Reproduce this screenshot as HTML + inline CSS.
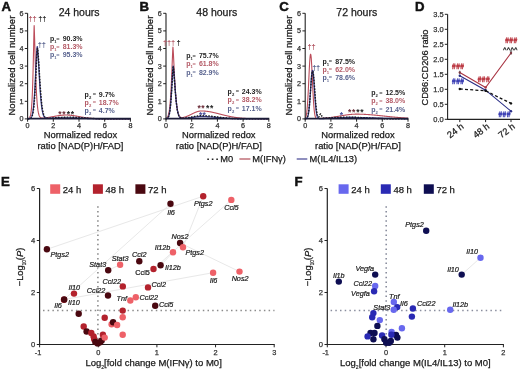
<!DOCTYPE html>
<html><head><meta charset="utf-8"><style>
html,body{margin:0;padding:0;background:#fff;}
svg{display:block;font-family:"Liberation Sans", Arial, sans-serif;}
</style></head><body>
<svg width="520" height="370" viewBox="0 0 520 370">
<rect width="520" height="370" fill="#fff"/>
<text x="1.60" y="10.60" font-size="13.2" text-anchor="start" fill="#111" font-weight="bold" stroke="#111" stroke-width="0.5">A</text>
<text x="58.70" y="15.50" font-size="10.5" text-anchor="start" fill="#1a1a1a"  stroke="#1a1a1a" stroke-width="0.25">24 hours</text>
<path d="M27.60,118.77 L27.78,118.74 L27.97,118.70 L28.15,118.66 L28.33,118.60 L28.52,118.53 L28.70,118.45 L28.89,118.34 L29.07,118.20 L29.25,118.03 L29.44,117.82 L29.62,117.56 L29.80,117.24 L29.99,116.84 L30.17,116.35 L30.35,115.75 L30.54,115.02 L30.72,114.13 L30.90,113.05 L31.09,111.75 L31.27,110.20 L31.46,108.33 L31.64,106.12 L31.82,103.51 L32.01,100.44 L32.19,96.85 L32.37,92.69 L32.56,87.92 L32.74,82.47 L32.92,76.33 L33.00,73.68 L33.11,69.49 L33.29,61.99 L33.47,53.93 L33.66,45.49 L33.84,37.03 L34.02,29.27 L34.15,25.45 L34.21,26.36 L34.39,31.41 L34.54,36.26 L34.58,37.53 L34.76,44.00 L34.80,45.31 L34.92,49.86 L34.94,50.51 L35.05,54.34 L35.13,56.86 L35.31,62.93 L35.49,68.67 L35.68,74.01 L35.86,78.95 L36.04,83.48 L36.23,87.60 L36.41,91.32 L36.59,94.68 L36.78,97.68 L36.96,100.36 L37.15,102.73 L37.24,103.81 L37.33,104.83 L37.49,106.50 L37.51,106.68 L37.70,108.30 L37.88,109.71 L38.06,110.95 L38.25,112.02 L38.43,112.95 L38.61,113.76 L38.80,114.45 L38.98,115.04 L39.16,115.55 L39.35,115.98 L39.53,116.35 L39.72,116.67 L39.90,116.93 L40.08,117.15 L40.27,117.34 L40.45,117.49 L40.63,117.62 L40.82,117.73 L41.00,117.81 L41.18,117.88 L41.37,117.94 L41.55,117.98 L41.73,118.02 L41.92,118.04 L42.10,118.06 L42.29,118.07 L42.47,118.08 L42.65,118.08 L42.84,118.07 L43.02,118.07 L43.20,118.06 L43.39,118.05 L43.57,118.04 L43.75,118.02 L43.94,118.01 L44.12,117.99 L44.31,117.97 L44.49,117.95 L44.67,117.93 L44.86,117.91 L45.04,117.89 L45.22,117.87 L45.41,117.84 L45.59,117.82 L45.77,117.80 L45.96,117.77 L46.14,117.75 L46.32,117.72 L46.51,117.69 L46.69,117.67 L46.88,117.64 L47.06,117.62 L47.24,117.59 L47.43,117.56 L47.61,117.53 L47.79,117.50 L47.98,117.48 L48.16,117.45 L48.34,117.42 L48.53,117.39 L48.71,117.36 L48.89,117.33 L49.08,117.30 L49.26,117.27 L49.45,117.24 L49.63,117.21 L49.81,117.17 L50.00,117.14 L50.18,117.11 L50.36,117.08 L50.55,117.05 L50.73,117.02 L50.91,116.98 L51.10,116.95 L51.28,116.92 L51.46,116.88 L51.65,116.85 L51.83,116.82 L52.02,116.79 L52.20,116.75 L52.38,116.72 L52.57,116.69 L52.75,116.65 L52.93,116.62 L53.12,116.59 L53.30,116.55 L53.48,116.52 L53.67,116.48 L53.85,116.45 L54.03,116.42 L54.22,116.38 L54.40,116.35 L54.59,116.32 L54.77,116.28 L54.95,116.25 L55.14,116.22 L55.32,116.19 L55.50,116.15 L55.69,116.12 L55.87,116.09 L56.05,116.06 L56.24,116.02 L56.42,115.99 L56.60,115.96 L56.79,115.93 L56.97,115.90 L57.16,115.87 L57.34,115.84 L57.52,115.81 L57.71,115.78 L57.89,115.75 L58.07,115.72 L58.26,115.69 L58.44,115.67 L58.62,115.64 L58.81,115.61 L58.99,115.58 L59.17,115.56 L59.36,115.53 L59.54,115.51 L59.73,115.48 L59.91,115.46 L60.09,115.44 L60.28,115.41 L60.46,115.39 L60.64,115.37 L60.83,115.35 L61.01,115.33 L61.19,115.31 L61.38,115.29 L61.56,115.27 L61.74,115.25 L61.93,115.23 L62.11,115.21 L62.30,115.20 L62.48,115.18 L62.66,115.17 L62.85,115.15 L63.03,115.14 L63.21,115.13 L63.40,115.12 L63.58,115.10 L63.76,115.09 L63.95,115.08 L64.13,115.08 L64.31,115.07 L64.50,115.06 L64.68,115.05 L64.87,115.05 L65.05,115.04 L65.23,115.04 L65.42,115.03 L65.60,115.03 L65.78,115.03 L65.97,115.03 L66.15,115.03 L66.33,115.03 L66.52,115.03 L66.70,115.03 L66.88,115.03 L67.07,115.04 L67.25,115.04 L67.44,115.05 L67.62,115.05 L67.80,115.06 L67.99,115.07 L68.17,115.08 L68.35,115.08 L68.54,115.09 L68.72,115.10 L68.90,115.12 L69.09,115.13 L69.27,115.14 L69.45,115.15 L69.64,115.17 L69.82,115.18 L70.00,115.20 L70.19,115.21 L70.37,115.23 L70.56,115.25 L70.74,115.27 L70.92,115.29 L71.11,115.31 L71.29,115.33 L71.47,115.35 L71.66,115.37 L71.84,115.39 L72.02,115.41 L72.21,115.44 L72.39,115.46 L72.58,115.48 L72.76,115.51 L72.94,115.53 L73.13,115.56 L73.31,115.58 L73.49,115.61 L73.68,115.64 L73.86,115.67 L74.04,115.69 L74.23,115.72 L74.41,115.75 L74.59,115.78 L74.78,115.81 L74.96,115.84 L75.15,115.87 L75.33,115.90 L75.51,115.93 L75.70,115.96 L75.88,115.99 L76.06,116.02 L76.25,116.06 L76.43,116.09 L76.61,116.12 L76.80,116.15 L76.98,116.19 L77.16,116.22 L77.35,116.25 L77.53,116.28 L77.72,116.32 L77.90,116.35 L78.08,116.38 L78.27,116.42 L78.45,116.45 L78.63,116.48 L78.82,116.52 L79.00,116.55 L79.18,116.59 L79.37,116.62 L79.55,116.65 L79.73,116.69 L79.92,116.72 L80.10,116.75 L80.28,116.79 L80.47,116.82 L80.65,116.85 L80.84,116.88 L81.02,116.92 L81.20,116.95 L81.39,116.98 L81.57,117.02 L81.75,117.05 L81.94,117.08 L82.12,117.11 L82.30,117.14 L82.49,117.17 L82.67,117.21 L82.85,117.24 L83.04,117.27 L83.22,117.30 L83.41,117.33 L83.59,117.36 L83.77,117.39 L83.96,117.42 L84.14,117.45 L84.32,117.48 L84.51,117.50 L84.69,117.53 L84.87,117.56 L85.06,117.59 L85.24,117.62 L85.42,117.64 L85.61,117.67 L85.79,117.70 L85.98,117.72 L86.16,117.75 L86.34,117.77 L86.53,117.80 L86.71,117.82 L86.89,117.85 L87.08,117.87 L87.26,117.90 L87.44,117.92 L87.63,117.94 L87.81,117.96 L88.00,117.99 L88.18,118.01 L88.36,118.03 L88.55,118.05 L88.73,118.07 L88.91,118.09 L89.10,118.11 L89.28,118.13 L89.46,118.15 L89.65,118.17 L89.83,118.19 L90.01,118.21 L90.20,118.23 L90.38,118.25 L90.56,118.26 L90.75,118.28 L90.93,118.30 L91.12,118.31 L91.30,118.33 L91.48,118.35 L91.67,118.36 L91.85,118.38 L92.03,118.39 L92.22,118.41 L92.40,118.42 L92.58,118.43 L92.77,118.45 L92.95,118.46 L93.13,118.47 L93.32,118.49 L93.50,118.50 L93.69,118.51 L93.87,118.52 L94.05,118.53 L94.24,118.54 L94.42,118.56 L94.60,118.57 L94.79,118.58 L94.97,118.59 L95.15,118.60 L95.34,118.61 L95.52,118.62 L95.70,118.63 L95.89,118.63 L96.07,118.64 L96.26,118.65 L96.44,118.66 L96.62,118.67 L96.81,118.68 L96.99,118.68 L97.17,118.69 L97.36,118.70 L97.54,118.70 L97.72,118.71 L97.91,118.72 L98.09,118.72 L98.28,118.73 L98.46,118.74 L98.64,118.74 L98.83,118.75 L99.01,118.75 L99.19,118.76 L99.38,118.76 L99.56,118.77 L99.74,118.77 L99.93,118.78 L100.11,118.78 L100.29,118.79 L100.48,118.79 L100.66,118.79 L100.84,118.80 L101.03,118.80 L101.21,118.81 L101.40,118.81 L101.58,118.81 L101.76,118.82 L101.95,118.82 L102.13,118.82 L102.31,118.83 L102.50,118.83 L102.68,118.83 L102.86,118.83 L103.05,118.84 L103.23,118.84 L103.41,118.84 L103.60,118.84 L103.78,118.85 L103.97,118.85 L104.15,118.85 L104.33,118.85 L104.52,118.86 L104.70,118.86 L104.88,118.86 L105.07,118.86 L105.25,118.86 L105.43,118.86 L105.62,118.87 L105.80,118.87 L105.98,118.87 L106.17,118.87 L106.35,118.87 L106.54,118.87 L106.72,118.87 L106.90,118.87 L107.09,118.88 L107.27,118.88 L107.45,118.88 L107.64,118.88 L107.82,118.88 L108.00,118.88 L108.19,118.88 L108.37,118.88 L108.56,118.88 L108.74,118.88 L108.92,118.88 L109.11,118.89 L109.29,118.89 L109.47,118.89 L109.66,118.89 L109.84,118.89 L110.02,118.89 L110.21,118.89 L110.39,118.89 L110.57,118.89 L110.76,118.89 L110.94,118.89 L111.12,118.89 L111.31,118.89 L111.49,118.89 L111.68,118.89 L111.86,118.89 L112.04,118.89 L112.23,118.89 L112.41,118.89 L112.59,118.89 L112.78,118.89 L112.96,118.89 L113.14,118.90 L113.33,118.90 L113.51,118.90 L113.69,118.90 L113.88,118.90 L114.06,118.90 L114.25,118.90 L114.43,118.90 L114.61,118.90 L114.80,118.90 L114.98,118.90 L115.16,118.90 L115.35,118.90 L115.53,118.90 L115.71,118.90 L115.90,118.90 L116.08,118.90 L116.27,118.90 L116.45,118.90 L116.63,118.90 L116.82,118.90 L117.00,118.90 L117.18,118.90 L117.37,118.90 L117.55,118.90 L117.73,118.90 L117.92,118.90 L118.10,118.90 L118.28,118.90 L118.47,118.90 L118.65,118.90 L118.84,118.90 L119.02,118.90 L119.20,118.90 L119.39,118.90 L119.57,118.90 L119.75,118.90 L119.94,118.90 L120.12,118.90 L120.30,118.90 L120.49,118.90 L120.67,118.90 L120.85,118.90 L121.04,118.90 L121.22,118.90 L121.41,118.90 L121.59,118.90 L121.77,118.90 L121.96,118.90 L122.14,118.90 L122.32,118.90 L122.51,118.90 L122.69,118.90 L122.87,118.90 L123.06,118.90 L123.24,118.90 L123.42,118.90 L123.61,118.90 L123.79,118.90 L123.97,118.90 L124.16,118.90 L124.34,118.90 L124.53,118.90 L124.71,118.90 L124.89,118.90 L125.08,118.90 L125.26,118.90 L125.44,118.90 L125.63,118.90 L125.81,118.90 L125.99,118.90 L126.18,118.90 L126.36,118.90 L126.54,118.90 L126.73,118.90 L126.91,118.90 L127.10,118.90 L127.28,118.90 L127.46,118.90 L127.65,118.90 L127.83,118.90 L128.01,118.90 L128.20,118.90 L128.38,118.90 L128.56,118.90 L128.75,118.90 L128.93,118.90 L129.12,118.90 L129.30,118.90 L129.48,118.90 L129.67,118.90 L129.85,118.90 L130.03,118.90 L130.22,118.90 L130.40,118.90" fill="none" stroke="#bc4c5a" stroke-width="1.1" stroke-linejoin="round"/>
<path d="M27.60,118.84 L27.78,118.83 L27.97,118.82 L28.15,118.81 L28.33,118.80 L28.52,118.78 L28.70,118.77 L28.89,118.74 L29.07,118.72 L29.25,118.68 L29.44,118.64 L29.62,118.59 L29.80,118.53 L29.99,118.46 L30.17,118.37 L30.35,118.26 L30.54,118.12 L30.72,117.97 L30.90,117.78 L31.09,117.55 L31.27,117.28 L31.46,116.96 L31.64,116.58 L31.82,116.14 L32.01,115.62 L32.19,115.01 L32.37,114.31 L32.56,113.50 L32.74,112.56 L32.92,111.49 L33.00,111.02 L33.11,110.27 L33.29,108.89 L33.47,107.34 L33.66,105.59 L33.84,103.65 L34.02,101.49 L34.15,99.86 L34.21,99.12 L34.39,96.53 L34.54,94.29 L34.58,93.71 L34.76,90.68 L34.80,90.04 L34.92,87.76 L34.94,87.43 L35.05,85.39 L35.13,83.99 L35.31,80.37 L35.49,76.61 L35.68,72.74 L35.86,68.82 L36.04,64.91 L36.23,61.08 L36.41,57.41 L36.59,54.01 L36.78,51.01 L36.96,48.56 L37.15,46.91 L37.24,46.56 L37.33,46.82 L37.49,47.89 L37.51,48.05 L37.70,49.89 L37.88,52.18 L38.06,54.80 L38.25,57.67 L38.43,60.71 L38.61,63.88 L38.80,67.12 L38.98,70.39 L39.16,73.64 L39.35,76.84 L39.53,79.96 L39.72,82.99 L39.90,85.91 L40.08,88.69 L40.27,91.33 L40.45,93.82 L40.63,96.16 L40.82,98.35 L41.00,100.38 L41.18,102.25 L41.37,103.98 L41.55,105.56 L41.73,107.01 L41.92,108.32 L42.10,109.51 L42.29,110.59 L42.47,111.55 L42.65,112.41 L42.84,113.18 L43.02,113.87 L43.20,114.48 L43.39,115.01 L43.57,115.48 L43.75,115.90 L43.94,116.26 L44.12,116.57 L44.31,116.85 L44.49,117.08 L44.67,117.29 L44.86,117.46 L45.04,117.61 L45.22,117.74 L45.41,117.85 L45.59,117.94 L45.77,118.02 L45.96,118.08 L46.14,118.14 L46.32,118.18 L46.51,118.22 L46.69,118.25 L46.88,118.27 L47.06,118.29 L47.24,118.30 L47.43,118.31 L47.61,118.32 L47.79,118.32 L47.98,118.33 L48.16,118.33 L48.34,118.33 L48.53,118.33 L48.71,118.32 L48.89,118.32 L49.08,118.31 L49.26,118.31 L49.45,118.30 L49.63,118.30 L49.81,118.29 L50.00,118.29 L50.18,118.28 L50.36,118.27 L50.55,118.26 L50.73,118.26 L50.91,118.25 L51.10,118.24 L51.28,118.24 L51.46,118.23 L51.65,118.22 L51.83,118.21 L52.02,118.21 L52.20,118.20 L52.38,118.19 L52.57,118.18 L52.75,118.18 L52.93,118.17 L53.12,118.16 L53.30,118.15 L53.48,118.15 L53.67,118.14 L53.85,118.13 L54.03,118.12 L54.22,118.12 L54.40,118.11 L54.59,118.10 L54.77,118.10 L54.95,118.09 L55.14,118.08 L55.32,118.07 L55.50,118.07 L55.69,118.06 L55.87,118.05 L56.05,118.05 L56.24,118.04 L56.42,118.03 L56.60,118.03 L56.79,118.02 L56.97,118.02 L57.16,118.01 L57.34,118.00 L57.52,118.00 L57.71,117.99 L57.89,117.99 L58.07,117.98 L58.26,117.97 L58.44,117.97 L58.62,117.96 L58.81,117.96 L58.99,117.95 L59.17,117.95 L59.36,117.94 L59.54,117.94 L59.73,117.93 L59.91,117.93 L60.09,117.92 L60.28,117.92 L60.46,117.91 L60.64,117.91 L60.83,117.91 L61.01,117.90 L61.19,117.90 L61.38,117.89 L61.56,117.89 L61.74,117.89 L61.93,117.88 L62.11,117.88 L62.30,117.88 L62.48,117.87 L62.66,117.87 L62.85,117.87 L63.03,117.87 L63.21,117.86 L63.40,117.86 L63.58,117.86 L63.76,117.86 L63.95,117.85 L64.13,117.85 L64.31,117.85 L64.50,117.85 L64.68,117.85 L64.87,117.85 L65.05,117.85 L65.23,117.85 L65.42,117.85 L65.60,117.84 L65.78,117.84 L65.97,117.84 L66.15,117.84 L66.33,117.84 L66.52,117.84 L66.70,117.84 L66.88,117.85 L67.07,117.85 L67.25,117.85 L67.44,117.85 L67.62,117.85 L67.80,117.85 L67.99,117.85 L68.17,117.85 L68.35,117.85 L68.54,117.86 L68.72,117.86 L68.90,117.86 L69.09,117.86 L69.27,117.87 L69.45,117.87 L69.64,117.87 L69.82,117.87 L70.00,117.88 L70.19,117.88 L70.37,117.88 L70.56,117.89 L70.74,117.89 L70.92,117.89 L71.11,117.90 L71.29,117.90 L71.47,117.91 L71.66,117.91 L71.84,117.91 L72.02,117.92 L72.21,117.92 L72.39,117.93 L72.58,117.93 L72.76,117.94 L72.94,117.94 L73.13,117.95 L73.31,117.95 L73.49,117.96 L73.68,117.96 L73.86,117.97 L74.04,117.97 L74.23,117.98 L74.41,117.99 L74.59,117.99 L74.78,118.00 L74.96,118.00 L75.15,118.01 L75.33,118.02 L75.51,118.02 L75.70,118.03 L75.88,118.03 L76.06,118.04 L76.25,118.05 L76.43,118.05 L76.61,118.06 L76.80,118.07 L76.98,118.07 L77.16,118.08 L77.35,118.09 L77.53,118.10 L77.72,118.10 L77.90,118.11 L78.08,118.12 L78.27,118.12 L78.45,118.13 L78.63,118.14 L78.82,118.15 L79.00,118.15 L79.18,118.16 L79.37,118.17 L79.55,118.18 L79.73,118.18 L79.92,118.19 L80.10,118.20 L80.28,118.21 L80.47,118.21 L80.65,118.22 L80.84,118.23 L81.02,118.24 L81.20,118.24 L81.39,118.25 L81.57,118.26 L81.75,118.27 L81.94,118.27 L82.12,118.28 L82.30,118.29 L82.49,118.30 L82.67,118.31 L82.85,118.31 L83.04,118.32 L83.22,118.33 L83.41,118.34 L83.59,118.34 L83.77,118.35 L83.96,118.36 L84.14,118.37 L84.32,118.37 L84.51,118.38 L84.69,118.39 L84.87,118.39 L85.06,118.40 L85.24,118.41 L85.42,118.42 L85.61,118.42 L85.79,118.43 L85.98,118.44 L86.16,118.44 L86.34,118.45 L86.53,118.46 L86.71,118.47 L86.89,118.47 L87.08,118.48 L87.26,118.49 L87.44,118.49 L87.63,118.50 L87.81,118.51 L88.00,118.51 L88.18,118.52 L88.36,118.53 L88.55,118.53 L88.73,118.54 L88.91,118.54 L89.10,118.55 L89.28,118.56 L89.46,118.56 L89.65,118.57 L89.83,118.58 L90.01,118.58 L90.20,118.59 L90.38,118.59 L90.56,118.60 L90.75,118.60 L90.93,118.61 L91.12,118.62 L91.30,118.62 L91.48,118.63 L91.67,118.63 L91.85,118.64 L92.03,118.64 L92.22,118.65 L92.40,118.65 L92.58,118.66 L92.77,118.66 L92.95,118.67 L93.13,118.67 L93.32,118.68 L93.50,118.68 L93.69,118.69 L93.87,118.69 L94.05,118.69 L94.24,118.70 L94.42,118.70 L94.60,118.71 L94.79,118.71 L94.97,118.72 L95.15,118.72 L95.34,118.72 L95.52,118.73 L95.70,118.73 L95.89,118.74 L96.07,118.74 L96.26,118.74 L96.44,118.75 L96.62,118.75 L96.81,118.75 L96.99,118.76 L97.17,118.76 L97.36,118.76 L97.54,118.77 L97.72,118.77 L97.91,118.77 L98.09,118.78 L98.28,118.78 L98.46,118.78 L98.64,118.79 L98.83,118.79 L99.01,118.79 L99.19,118.79 L99.38,118.80 L99.56,118.80 L99.74,118.80 L99.93,118.80 L100.11,118.81 L100.29,118.81 L100.48,118.81 L100.66,118.81 L100.84,118.82 L101.03,118.82 L101.21,118.82 L101.40,118.82 L101.58,118.82 L101.76,118.83 L101.95,118.83 L102.13,118.83 L102.31,118.83 L102.50,118.83 L102.68,118.84 L102.86,118.84 L103.05,118.84 L103.23,118.84 L103.41,118.84 L103.60,118.84 L103.78,118.85 L103.97,118.85 L104.15,118.85 L104.33,118.85 L104.52,118.85 L104.70,118.85 L104.88,118.85 L105.07,118.86 L105.25,118.86 L105.43,118.86 L105.62,118.86 L105.80,118.86 L105.98,118.86 L106.17,118.86 L106.35,118.86 L106.54,118.87 L106.72,118.87 L106.90,118.87 L107.09,118.87 L107.27,118.87 L107.45,118.87 L107.64,118.87 L107.82,118.87 L108.00,118.87 L108.19,118.87 L108.37,118.88 L108.56,118.88 L108.74,118.88 L108.92,118.88 L109.11,118.88 L109.29,118.88 L109.47,118.88 L109.66,118.88 L109.84,118.88 L110.02,118.88 L110.21,118.88 L110.39,118.88 L110.57,118.88 L110.76,118.88 L110.94,118.88 L111.12,118.88 L111.31,118.89 L111.49,118.89 L111.68,118.89 L111.86,118.89 L112.04,118.89 L112.23,118.89 L112.41,118.89 L112.59,118.89 L112.78,118.89 L112.96,118.89 L113.14,118.89 L113.33,118.89 L113.51,118.89 L113.69,118.89 L113.88,118.89 L114.06,118.89 L114.25,118.89 L114.43,118.89 L114.61,118.89 L114.80,118.89 L114.98,118.89 L115.16,118.89 L115.35,118.89 L115.53,118.89 L115.71,118.89 L115.90,118.89 L116.08,118.89 L116.27,118.89 L116.45,118.89 L116.63,118.90 L116.82,118.90 L117.00,118.90 L117.18,118.90 L117.37,118.90 L117.55,118.90 L117.73,118.90 L117.92,118.90 L118.10,118.90 L118.28,118.90 L118.47,118.90 L118.65,118.90 L118.84,118.90 L119.02,118.90 L119.20,118.90 L119.39,118.90 L119.57,118.90 L119.75,118.90 L119.94,118.90 L120.12,118.90 L120.30,118.90 L120.49,118.90 L120.67,118.90 L120.85,118.90 L121.04,118.90 L121.22,118.90 L121.41,118.90 L121.59,118.90 L121.77,118.90 L121.96,118.90 L122.14,118.90 L122.32,118.90 L122.51,118.90 L122.69,118.90 L122.87,118.90 L123.06,118.90 L123.24,118.90 L123.42,118.90 L123.61,118.90 L123.79,118.90 L123.97,118.90 L124.16,118.90 L124.34,118.90 L124.53,118.90 L124.71,118.90 L124.89,118.90 L125.08,118.90 L125.26,118.90 L125.44,118.90 L125.63,118.90 L125.81,118.90 L125.99,118.90 L126.18,118.90 L126.36,118.90 L126.54,118.90 L126.73,118.90 L126.91,118.90 L127.10,118.90 L127.28,118.90 L127.46,118.90 L127.65,118.90 L127.83,118.90 L128.01,118.90 L128.20,118.90 L128.38,118.90 L128.56,118.90 L128.75,118.90 L128.93,118.90 L129.12,118.90 L129.30,118.90 L129.48,118.90 L129.67,118.90 L129.85,118.90 L130.03,118.90 L130.22,118.90 L130.40,118.90" fill="none" stroke="#3a3c8c" stroke-width="1.3" stroke-linejoin="round"/>
<path d="M27.60,118.86 L27.78,118.86 L27.97,118.85 L28.15,118.84 L28.33,118.84 L28.52,118.83 L28.70,118.81 L28.89,118.80 L29.07,118.78 L29.25,118.75 L29.44,118.72 L29.62,118.69 L29.80,118.64 L29.99,118.59 L30.17,118.52 L30.35,118.44 L30.54,118.34 L30.72,118.22 L30.90,118.08 L31.09,117.91 L31.27,117.70 L31.46,117.45 L31.64,117.16 L31.82,116.82 L32.01,116.41 L32.19,115.94 L32.37,115.38 L32.56,114.73 L32.74,113.98 L32.92,113.12 L33.00,112.74 L33.11,112.13 L33.29,111.00 L33.47,109.72 L33.66,108.27 L33.84,106.65 L34.02,104.83 L34.15,103.44 L34.21,102.81 L34.39,100.58 L34.54,98.65 L34.58,98.14 L34.76,95.48 L34.80,94.92 L34.92,92.90 L34.94,92.60 L35.05,90.77 L35.13,89.52 L35.31,86.23 L35.49,82.76 L35.68,79.15 L35.86,75.41 L36.04,71.60 L36.23,67.77 L36.41,63.99 L36.59,60.34 L36.78,56.91 L36.96,53.81 L37.15,51.18 L37.24,50.10 L37.33,49.22 L37.49,48.35 L37.51,48.36 L37.70,49.18 L37.88,50.67 L38.06,52.61 L38.25,54.90 L38.43,57.46 L38.61,60.22 L38.80,63.12 L38.98,66.11 L39.16,69.15 L39.35,72.21 L39.53,75.25 L39.72,78.23 L39.90,81.15 L40.08,83.98 L40.27,86.71 L40.45,89.32 L40.63,91.80 L40.82,94.15 L41.00,96.36 L41.18,98.43 L41.37,100.36 L41.55,102.15 L41.73,103.81 L41.92,105.34 L42.10,106.74 L42.29,108.02 L42.47,109.18 L42.65,110.24 L42.84,111.20 L43.02,112.06 L43.20,112.83 L43.39,113.52 L43.57,114.14 L43.75,114.69 L43.94,115.17 L44.12,115.60 L44.31,115.98 L44.49,116.31 L44.67,116.60 L44.86,116.85 L45.04,117.07 L45.22,117.26 L45.41,117.42 L45.59,117.56 L45.77,117.68 L45.96,117.79 L46.14,117.87 L46.32,117.94 L46.51,118.00 L46.69,118.05 L46.88,118.09 L47.06,118.13 L47.24,118.15 L47.43,118.17 L47.61,118.19 L47.79,118.20 L47.98,118.21 L48.16,118.21 L48.34,118.21 L48.53,118.21 L48.71,118.21 L48.89,118.21 L49.08,118.20 L49.26,118.19 L49.45,118.19 L49.63,118.18 L49.81,118.17 L50.00,118.16 L50.18,118.15 L50.36,118.14 L50.55,118.12 L50.73,118.11 L50.91,118.10 L51.10,118.09 L51.28,118.08 L51.46,118.06 L51.65,118.05 L51.83,118.04 L52.02,118.02 L52.20,118.01 L52.38,118.00 L52.57,117.98 L52.75,117.97 L52.93,117.96 L53.12,117.94 L53.30,117.93 L53.48,117.92 L53.67,117.90 L53.85,117.89 L54.03,117.87 L54.22,117.86 L54.40,117.85 L54.59,117.83 L54.77,117.82 L54.95,117.80 L55.14,117.79 L55.32,117.78 L55.50,117.76 L55.69,117.75 L55.87,117.74 L56.05,117.72 L56.24,117.71 L56.42,117.69 L56.60,117.68 L56.79,117.67 L56.97,117.65 L57.16,117.64 L57.34,117.63 L57.52,117.61 L57.71,117.60 L57.89,117.59 L58.07,117.57 L58.26,117.56 L58.44,117.55 L58.62,117.54 L58.81,117.52 L58.99,117.51 L59.17,117.50 L59.36,117.49 L59.54,117.47 L59.73,117.46 L59.91,117.45 L60.09,117.44 L60.28,117.43 L60.46,117.42 L60.64,117.41 L60.83,117.39 L61.01,117.38 L61.19,117.37 L61.38,117.36 L61.56,117.35 L61.74,117.34 L61.93,117.33 L62.11,117.32 L62.30,117.31 L62.48,117.30 L62.66,117.29 L62.85,117.29 L63.03,117.28 L63.21,117.27 L63.40,117.26 L63.58,117.25 L63.76,117.24 L63.95,117.24 L64.13,117.23 L64.31,117.22 L64.50,117.22 L64.68,117.21 L64.87,117.20 L65.05,117.20 L65.23,117.19 L65.42,117.19 L65.60,117.18 L65.78,117.18 L65.97,117.17 L66.15,117.17 L66.33,117.16 L66.52,117.16 L66.70,117.16 L66.88,117.15 L67.07,117.15 L67.25,117.15 L67.44,117.15 L67.62,117.15 L67.80,117.14 L67.99,117.14 L68.17,117.14 L68.35,117.14 L68.54,117.14 L68.72,117.14 L68.90,117.14 L69.09,117.14 L69.27,117.14 L69.45,117.14 L69.64,117.14 L69.82,117.15 L70.00,117.15 L70.19,117.15 L70.37,117.15 L70.56,117.15 L70.74,117.16 L70.92,117.16 L71.11,117.16 L71.29,117.17 L71.47,117.17 L71.66,117.18 L71.84,117.18 L72.02,117.19 L72.21,117.19 L72.39,117.20 L72.58,117.20 L72.76,117.21 L72.94,117.22 L73.13,117.22 L73.31,117.23 L73.49,117.24 L73.68,117.24 L73.86,117.25 L74.04,117.26 L74.23,117.27 L74.41,117.28 L74.59,117.29 L74.78,117.29 L74.96,117.30 L75.15,117.31 L75.33,117.32 L75.51,117.33 L75.70,117.34 L75.88,117.35 L76.06,117.36 L76.25,117.37 L76.43,117.38 L76.61,117.39 L76.80,117.41 L76.98,117.42 L77.16,117.43 L77.35,117.44 L77.53,117.45 L77.72,117.46 L77.90,117.47 L78.08,117.49 L78.27,117.50 L78.45,117.51 L78.63,117.52 L78.82,117.54 L79.00,117.55 L79.18,117.56 L79.37,117.57 L79.55,117.59 L79.73,117.60 L79.92,117.61 L80.10,117.63 L80.28,117.64 L80.47,117.65 L80.65,117.67 L80.84,117.68 L81.02,117.69 L81.20,117.71 L81.39,117.72 L81.57,117.74 L81.75,117.75 L81.94,117.76 L82.12,117.78 L82.30,117.79 L82.49,117.80 L82.67,117.82 L82.85,117.83 L83.04,117.85 L83.22,117.86 L83.41,117.87 L83.59,117.89 L83.77,117.90 L83.96,117.92 L84.14,117.93 L84.32,117.94 L84.51,117.96 L84.69,117.97 L84.87,117.98 L85.06,118.00 L85.24,118.01 L85.42,118.02 L85.61,118.04 L85.79,118.05 L85.98,118.06 L86.16,118.08 L86.34,118.09 L86.53,118.10 L86.71,118.12 L86.89,118.13 L87.08,118.14 L87.26,118.16 L87.44,118.17 L87.63,118.18 L87.81,118.19 L88.00,118.21 L88.18,118.22 L88.36,118.23 L88.55,118.24 L88.73,118.25 L88.91,118.27 L89.10,118.28 L89.28,118.29 L89.46,118.30 L89.65,118.31 L89.83,118.32 L90.01,118.33 L90.20,118.35 L90.38,118.36 L90.56,118.37 L90.75,118.38 L90.93,118.39 L91.12,118.40 L91.30,118.41 L91.48,118.42 L91.67,118.43 L91.85,118.44 L92.03,118.45 L92.22,118.46 L92.40,118.47 L92.58,118.48 L92.77,118.49 L92.95,118.50 L93.13,118.50 L93.32,118.51 L93.50,118.52 L93.69,118.53 L93.87,118.54 L94.05,118.55 L94.24,118.55 L94.42,118.56 L94.60,118.57 L94.79,118.58 L94.97,118.59 L95.15,118.59 L95.34,118.60 L95.52,118.61 L95.70,118.62 L95.89,118.62 L96.07,118.63 L96.26,118.64 L96.44,118.64 L96.62,118.65 L96.81,118.66 L96.99,118.66 L97.17,118.67 L97.36,118.67 L97.54,118.68 L97.72,118.69 L97.91,118.69 L98.09,118.70 L98.28,118.70 L98.46,118.71 L98.64,118.71 L98.83,118.72 L99.01,118.72 L99.19,118.73 L99.38,118.73 L99.56,118.74 L99.74,118.74 L99.93,118.75 L100.11,118.75 L100.29,118.75 L100.48,118.76 L100.66,118.76 L100.84,118.77 L101.03,118.77 L101.21,118.77 L101.40,118.78 L101.58,118.78 L101.76,118.79 L101.95,118.79 L102.13,118.79 L102.31,118.80 L102.50,118.80 L102.68,118.80 L102.86,118.80 L103.05,118.81 L103.23,118.81 L103.41,118.81 L103.60,118.82 L103.78,118.82 L103.97,118.82 L104.15,118.82 L104.33,118.83 L104.52,118.83 L104.70,118.83 L104.88,118.83 L105.07,118.84 L105.25,118.84 L105.43,118.84 L105.62,118.84 L105.80,118.84 L105.98,118.85 L106.17,118.85 L106.35,118.85 L106.54,118.85 L106.72,118.85 L106.90,118.85 L107.09,118.86 L107.27,118.86 L107.45,118.86 L107.64,118.86 L107.82,118.86 L108.00,118.86 L108.19,118.86 L108.37,118.87 L108.56,118.87 L108.74,118.87 L108.92,118.87 L109.11,118.87 L109.29,118.87 L109.47,118.87 L109.66,118.87 L109.84,118.87 L110.02,118.88 L110.21,118.88 L110.39,118.88 L110.57,118.88 L110.76,118.88 L110.94,118.88 L111.12,118.88 L111.31,118.88 L111.49,118.88 L111.68,118.88 L111.86,118.88 L112.04,118.88 L112.23,118.88 L112.41,118.89 L112.59,118.89 L112.78,118.89 L112.96,118.89 L113.14,118.89 L113.33,118.89 L113.51,118.89 L113.69,118.89 L113.88,118.89 L114.06,118.89 L114.25,118.89 L114.43,118.89 L114.61,118.89 L114.80,118.89 L114.98,118.89 L115.16,118.89 L115.35,118.89 L115.53,118.89 L115.71,118.89 L115.90,118.89 L116.08,118.89 L116.27,118.89 L116.45,118.89 L116.63,118.89 L116.82,118.89 L117.00,118.89 L117.18,118.90 L117.37,118.90 L117.55,118.90 L117.73,118.90 L117.92,118.90 L118.10,118.90 L118.28,118.90 L118.47,118.90 L118.65,118.90 L118.84,118.90 L119.02,118.90 L119.20,118.90 L119.39,118.90 L119.57,118.90 L119.75,118.90 L119.94,118.90 L120.12,118.90 L120.30,118.90 L120.49,118.90 L120.67,118.90 L120.85,118.90 L121.04,118.90 L121.22,118.90 L121.41,118.90 L121.59,118.90 L121.77,118.90 L121.96,118.90 L122.14,118.90 L122.32,118.90 L122.51,118.90 L122.69,118.90 L122.87,118.90 L123.06,118.90 L123.24,118.90 L123.42,118.90 L123.61,118.90 L123.79,118.90 L123.97,118.90 L124.16,118.90 L124.34,118.90 L124.53,118.90 L124.71,118.90 L124.89,118.90 L125.08,118.90 L125.26,118.90 L125.44,118.90 L125.63,118.90 L125.81,118.90 L125.99,118.90 L126.18,118.90 L126.36,118.90 L126.54,118.90 L126.73,118.90 L126.91,118.90 L127.10,118.90 L127.28,118.90 L127.46,118.90 L127.65,118.90 L127.83,118.90 L128.01,118.90 L128.20,118.90 L128.38,118.90 L128.56,118.90 L128.75,118.90 L128.93,118.90 L129.12,118.90 L129.30,118.90 L129.48,118.90 L129.67,118.90 L129.85,118.90 L130.03,118.90 L130.22,118.90 L130.40,118.90" fill="none" stroke="#1a1a1a" stroke-width="1.4" stroke-linejoin="round" stroke-dasharray="1.6,1.3"/>
<line x1="27.60" y1="13.30" x2="27.60" y2="119.40" stroke="#222" stroke-width="1.1"/>
<line x1="24.80" y1="118.90" x2="27.60" y2="118.90" stroke="#222" stroke-width="1"/>
<text x="23.40" y="121.40" font-size="7.2" text-anchor="end" fill="#333"  stroke="#333" stroke-width="0.25">0</text>
<line x1="24.80" y1="101.30" x2="27.60" y2="101.30" stroke="#222" stroke-width="1"/>
<text x="23.40" y="103.80" font-size="7.2" text-anchor="end" fill="#333"  stroke="#333" stroke-width="0.25">1</text>
<line x1="24.80" y1="83.70" x2="27.60" y2="83.70" stroke="#222" stroke-width="1"/>
<text x="23.40" y="86.20" font-size="7.2" text-anchor="end" fill="#333"  stroke="#333" stroke-width="0.25">2</text>
<line x1="24.80" y1="66.10" x2="27.60" y2="66.10" stroke="#222" stroke-width="1"/>
<text x="23.40" y="68.60" font-size="7.2" text-anchor="end" fill="#333"  stroke="#333" stroke-width="0.25">3</text>
<line x1="24.80" y1="48.50" x2="27.60" y2="48.50" stroke="#222" stroke-width="1"/>
<text x="23.40" y="51.00" font-size="7.2" text-anchor="end" fill="#333"  stroke="#333" stroke-width="0.25">4</text>
<line x1="24.80" y1="30.90" x2="27.60" y2="30.90" stroke="#222" stroke-width="1"/>
<text x="23.40" y="33.40" font-size="7.2" text-anchor="end" fill="#333"  stroke="#333" stroke-width="0.25">5</text>
<line x1="24.80" y1="13.30" x2="27.60" y2="13.30" stroke="#222" stroke-width="1"/>
<text x="23.40" y="15.80" font-size="7.2" text-anchor="end" fill="#333"  stroke="#333" stroke-width="0.25">6</text>
<line x1="27.10" y1="118.70" x2="130.90" y2="118.70" stroke="#1c1c38" stroke-width="1.8"/>
<line x1="27.60" y1="118.90" x2="27.60" y2="121.70" stroke="#222" stroke-width="1"/>
<text x="27.60" y="128.10" font-size="7.2" text-anchor="middle" fill="#333"  stroke="#333" stroke-width="0.25">0</text>
<line x1="53.30" y1="118.90" x2="53.30" y2="121.70" stroke="#222" stroke-width="1"/>
<text x="53.30" y="128.10" font-size="7.2" text-anchor="middle" fill="#333"  stroke="#333" stroke-width="0.25">2</text>
<line x1="79.00" y1="118.90" x2="79.00" y2="121.70" stroke="#222" stroke-width="1"/>
<text x="79.00" y="128.10" font-size="7.2" text-anchor="middle" fill="#333"  stroke="#333" stroke-width="0.25">4</text>
<line x1="104.70" y1="118.90" x2="104.70" y2="121.70" stroke="#222" stroke-width="1"/>
<text x="104.70" y="128.10" font-size="7.2" text-anchor="middle" fill="#333"  stroke="#333" stroke-width="0.25">6</text>
<line x1="130.40" y1="118.90" x2="130.40" y2="121.70" stroke="#222" stroke-width="1"/>
<text x="130.40" y="128.10" font-size="7.2" text-anchor="middle" fill="#333"  stroke="#333" stroke-width="0.25">8</text>
<text x="80.40" y="138.00" font-size="9.4" text-anchor="middle" fill="#1a1a1a"  stroke="#1a1a1a" stroke-width="0.25">Normalized redox</text>
<text x="80.40" y="148.60" font-size="9.4" text-anchor="middle" fill="#1a1a1a"  stroke="#1a1a1a" stroke-width="0.25">ratio [NAD(P)H/FAD]</text>
<text transform="translate(14.70,65.6) rotate(-90)" font-size="9.5" text-anchor="middle" fill="#1a1a1a" stroke="#1a1a1a" stroke-width="0.28">Normalized cell number</text>
<text x="139.60" y="10.60" font-size="13.2" text-anchor="start" fill="#111" font-weight="bold" stroke="#111" stroke-width="0.5">B</text>
<text x="196.30" y="15.50" font-size="10.5" text-anchor="start" fill="#1a1a1a"  stroke="#1a1a1a" stroke-width="0.25">48 hours</text>
<path d="M166.00,118.48 L166.18,118.40 L166.37,118.30 L166.55,118.18 L166.73,118.04 L166.92,117.88 L167.10,117.69 L167.28,117.46 L167.47,117.19 L167.65,116.88 L167.84,116.52 L168.02,116.10 L168.20,115.60 L168.39,115.03 L168.57,114.37 L168.75,113.61 L168.94,112.74 L169.12,111.73 L169.30,110.59 L169.49,109.29 L169.67,107.81 L169.85,106.15 L170.04,104.27 L170.22,102.17 L170.41,99.82 L170.59,97.22 L170.77,94.35 L170.96,91.20 L171.14,87.76 L171.32,84.04 L171.40,82.48 L171.51,80.05 L171.69,75.81 L171.87,71.35 L172.06,66.73 L172.24,62.04 L172.43,57.40 L172.55,54.28 L172.61,53.00 L172.79,49.17 L172.94,47.16 L172.98,47.39 L173.16,49.71 L173.20,50.29 L173.32,52.48 L173.34,52.81 L173.45,54.86 L173.53,56.28 L173.71,59.94 L173.89,63.68 L174.08,67.41 L174.26,71.09 L174.44,74.67 L174.63,78.11 L174.81,81.41 L175.00,84.53 L175.18,87.48 L175.36,90.25 L175.55,92.83 L175.64,94.06 L175.73,95.24 L175.89,97.25 L175.91,97.46 L176.10,99.51 L176.28,101.40 L176.46,103.13 L176.65,104.71 L176.83,106.15 L177.01,107.46 L177.20,108.64 L177.38,109.71 L177.56,110.67 L177.75,111.54 L177.93,112.31 L178.12,113.00 L178.30,113.62 L178.48,114.17 L178.67,114.65 L178.85,115.08 L179.03,115.46 L179.22,115.79 L179.40,116.08 L179.58,116.33 L179.77,116.55 L179.95,116.74 L180.13,116.90 L180.32,117.04 L180.50,117.16 L180.69,117.25 L180.87,117.33 L181.05,117.40 L181.24,117.45 L181.42,117.49 L181.60,117.51 L181.79,117.53 L181.97,117.54 L182.15,117.54 L182.34,117.54 L182.52,117.53 L182.71,117.51 L182.89,117.49 L183.07,117.46 L183.26,117.43 L183.44,117.40 L183.62,117.36 L183.81,117.32 L183.99,117.28 L184.17,117.23 L184.36,117.18 L184.54,117.13 L184.72,117.08 L184.91,117.02 L185.09,116.97 L185.28,116.91 L185.46,116.85 L185.64,116.78 L185.83,116.72 L186.01,116.66 L186.19,116.59 L186.38,116.52 L186.56,116.45 L186.74,116.38 L186.93,116.31 L187.11,116.23 L187.29,116.16 L187.48,116.08 L187.66,116.00 L187.84,115.93 L188.03,115.85 L188.21,115.77 L188.40,115.68 L188.58,115.60 L188.76,115.52 L188.95,115.43 L189.13,115.35 L189.31,115.26 L189.50,115.18 L189.68,115.09 L189.86,115.00 L190.05,114.91 L190.23,114.82 L190.41,114.73 L190.60,114.64 L190.78,114.55 L190.97,114.46 L191.15,114.37 L191.33,114.28 L191.52,114.19 L191.70,114.10 L191.88,114.00 L192.07,113.91 L192.25,113.82 L192.43,113.73 L192.62,113.64 L192.80,113.55 L192.99,113.46 L193.17,113.37 L193.35,113.28 L193.54,113.19 L193.72,113.11 L193.90,113.02 L194.09,112.93 L194.27,112.85 L194.45,112.76 L194.64,112.68 L194.82,112.60 L195.00,112.52 L195.19,112.44 L195.37,112.36 L195.56,112.28 L195.74,112.21 L195.92,112.14 L196.11,112.07 L196.29,112.00 L196.47,111.93 L196.66,111.86 L196.84,111.80 L197.02,111.73 L197.21,111.67 L197.39,111.62 L197.57,111.56 L197.76,111.51 L197.94,111.46 L198.12,111.41 L198.31,111.36 L198.49,111.32 L198.68,111.28 L198.86,111.24 L199.04,111.20 L199.23,111.17 L199.41,111.14 L199.59,111.11 L199.78,111.08 L199.96,111.06 L200.14,111.04 L200.33,111.02 L200.51,111.01 L200.69,111.00 L200.88,110.99 L201.06,110.98 L201.25,110.98 L201.43,110.98 L201.61,110.98 L201.80,110.98 L201.98,110.98 L202.16,110.99 L202.35,110.99 L202.53,111.00 L202.71,111.00 L202.90,111.01 L203.08,111.01 L203.26,111.02 L203.45,111.03 L203.63,111.04 L203.82,111.05 L204.00,111.06 L204.18,111.07 L204.37,111.08 L204.55,111.10 L204.73,111.11 L204.92,111.12 L205.10,111.14 L205.28,111.16 L205.47,111.17 L205.65,111.19 L205.84,111.21 L206.02,111.23 L206.20,111.25 L206.39,111.27 L206.57,111.29 L206.75,111.31 L206.94,111.33 L207.12,111.35 L207.30,111.38 L207.49,111.40 L207.67,111.42 L207.85,111.45 L208.04,111.48 L208.22,111.50 L208.41,111.53 L208.59,111.56 L208.77,111.59 L208.96,111.62 L209.14,111.64 L209.32,111.67 L209.51,111.71 L209.69,111.74 L209.87,111.77 L210.06,111.80 L210.24,111.83 L210.42,111.87 L210.61,111.90 L210.79,111.94 L210.97,111.97 L211.16,112.01 L211.34,112.04 L211.53,112.08 L211.71,112.12 L211.89,112.15 L212.08,112.19 L212.26,112.23 L212.44,112.27 L212.63,112.31 L212.81,112.35 L212.99,112.39 L213.18,112.43 L213.36,112.47 L213.55,112.51 L213.73,112.55 L213.91,112.59 L214.10,112.64 L214.28,112.68 L214.46,112.72 L214.65,112.76 L214.83,112.81 L215.01,112.85 L215.20,112.89 L215.38,112.94 L215.56,112.98 L215.75,113.03 L215.93,113.07 L216.12,113.12 L216.30,113.16 L216.48,113.21 L216.67,113.25 L216.85,113.30 L217.03,113.35 L217.22,113.39 L217.40,113.44 L217.58,113.48 L217.77,113.53 L217.95,113.58 L218.13,113.62 L218.32,113.67 L218.50,113.72 L218.69,113.77 L218.87,113.81 L219.05,113.86 L219.24,113.91 L219.42,113.95 L219.60,114.00 L219.79,114.05 L219.97,114.10 L220.15,114.14 L220.34,114.19 L220.52,114.24 L220.70,114.29 L220.89,114.33 L221.07,114.38 L221.25,114.43 L221.44,114.47 L221.62,114.52 L221.81,114.57 L221.99,114.61 L222.17,114.66 L222.36,114.71 L222.54,114.75 L222.72,114.80 L222.91,114.85 L223.09,114.89 L223.27,114.94 L223.46,114.99 L223.64,115.03 L223.82,115.08 L224.01,115.12 L224.19,115.17 L224.38,115.21 L224.56,115.26 L224.74,115.30 L224.93,115.35 L225.11,115.39 L225.29,115.43 L225.48,115.48 L225.66,115.52 L225.84,115.57 L226.03,115.61 L226.21,115.65 L226.40,115.69 L226.58,115.74 L226.76,115.78 L226.95,115.82 L227.13,115.86 L227.31,115.90 L227.50,115.94 L227.68,115.98 L227.86,116.03 L228.05,116.07 L228.23,116.11 L228.41,116.14 L228.60,116.18 L228.78,116.22 L228.97,116.26 L229.15,116.30 L229.33,116.34 L229.52,116.38 L229.70,116.41 L229.88,116.45 L230.07,116.49 L230.25,116.52 L230.43,116.56 L230.62,116.60 L230.80,116.63 L230.98,116.67 L231.17,116.70 L231.35,116.74 L231.53,116.77 L231.72,116.80 L231.90,116.84 L232.09,116.87 L232.27,116.90 L232.45,116.94 L232.64,116.97 L232.82,117.00 L233.00,117.03 L233.19,117.06 L233.37,117.09 L233.55,117.12 L233.74,117.15 L233.92,117.18 L234.10,117.21 L234.29,117.24 L234.47,117.27 L234.66,117.30 L234.84,117.33 L235.02,117.35 L235.21,117.38 L235.39,117.41 L235.57,117.44 L235.76,117.46 L235.94,117.49 L236.12,117.51 L236.31,117.54 L236.49,117.56 L236.68,117.59 L236.86,117.61 L237.04,117.64 L237.23,117.66 L237.41,117.68 L237.59,117.71 L237.78,117.73 L237.96,117.75 L238.14,117.77 L238.33,117.80 L238.51,117.82 L238.69,117.84 L238.88,117.86 L239.06,117.88 L239.25,117.90 L239.43,117.92 L239.61,117.94 L239.80,117.96 L239.98,117.98 L240.16,118.00 L240.35,118.02 L240.53,118.03 L240.71,118.05 L240.90,118.07 L241.08,118.09 L241.26,118.10 L241.45,118.12 L241.63,118.14 L241.81,118.15 L242.00,118.17 L242.18,118.18 L242.37,118.20 L242.55,118.21 L242.73,118.23 L242.92,118.24 L243.10,118.26 L243.28,118.27 L243.47,118.29 L243.65,118.30 L243.83,118.31 L244.02,118.33 L244.20,118.34 L244.38,118.35 L244.57,118.36 L244.75,118.38 L244.94,118.39 L245.12,118.40 L245.30,118.41 L245.49,118.42 L245.67,118.43 L245.85,118.44 L246.04,118.45 L246.22,118.46 L246.40,118.48 L246.59,118.49 L246.77,118.49 L246.95,118.50 L247.14,118.51 L247.32,118.52 L247.51,118.53 L247.69,118.54 L247.87,118.55 L248.06,118.56 L248.24,118.57 L248.42,118.57 L248.61,118.58 L248.79,118.59 L248.97,118.60 L249.16,118.61 L249.34,118.61 L249.52,118.62 L249.71,118.63 L249.89,118.63 L250.08,118.64 L250.26,118.65 L250.44,118.65 L250.63,118.66 L250.81,118.67 L250.99,118.67 L251.18,118.68 L251.36,118.68 L251.54,118.69 L251.73,118.70 L251.91,118.70 L252.09,118.71 L252.28,118.71 L252.46,118.72 L252.65,118.72 L252.83,118.73 L253.01,118.73 L253.20,118.74 L253.38,118.74 L253.56,118.74 L253.75,118.75 L253.93,118.75 L254.11,118.76 L254.30,118.76 L254.48,118.76 L254.67,118.77 L254.85,118.77 L255.03,118.78 L255.22,118.78 L255.40,118.78 L255.58,118.79 L255.77,118.79 L255.95,118.79 L256.13,118.80 L256.32,118.80 L256.50,118.80 L256.68,118.80 L256.87,118.81 L257.05,118.81 L257.24,118.81 L257.42,118.81 L257.60,118.82 L257.79,118.82 L257.97,118.82 L258.15,118.82 L258.34,118.83 L258.52,118.83 L258.70,118.83 L258.89,118.83 L259.07,118.83 L259.25,118.84 L259.44,118.84 L259.62,118.84 L259.81,118.84 L259.99,118.84 L260.17,118.85 L260.36,118.85 L260.54,118.85 L260.72,118.85 L260.91,118.85 L261.09,118.85 L261.27,118.86 L261.46,118.86 L261.64,118.86 L261.82,118.86 L262.01,118.86 L262.19,118.86 L262.38,118.86 L262.56,118.86 L262.74,118.87 L262.93,118.87 L263.11,118.87 L263.29,118.87 L263.48,118.87 L263.66,118.87 L263.84,118.87 L264.03,118.87 L264.21,118.87 L264.39,118.87 L264.58,118.88 L264.76,118.88 L264.94,118.88 L265.13,118.88 L265.31,118.88 L265.50,118.88 L265.68,118.88 L265.86,118.88 L266.05,118.88 L266.23,118.88 L266.41,118.88 L266.60,118.88 L266.78,118.88 L266.96,118.88 L267.15,118.88 L267.33,118.89 L267.51,118.89 L267.70,118.89 L267.88,118.89 L268.07,118.89 L268.25,118.89 L268.43,118.89 L268.62,118.89 L268.80,118.89" fill="none" stroke="#bc4c5a" stroke-width="1.1" stroke-linejoin="round"/>
<path d="M166.00,118.76 L166.18,118.73 L166.37,118.68 L166.55,118.63 L166.73,118.57 L166.92,118.49 L167.10,118.39 L167.28,118.28 L167.47,118.14 L167.65,117.96 L167.84,117.76 L168.02,117.52 L168.20,117.22 L168.39,116.88 L168.57,116.47 L168.75,115.98 L168.94,115.42 L169.12,114.76 L169.30,113.99 L169.49,113.10 L169.67,112.08 L169.85,110.92 L170.04,109.59 L170.22,108.10 L170.41,106.41 L170.59,104.54 L170.77,102.46 L170.96,100.18 L171.14,97.69 L171.32,95.00 L171.40,93.87 L171.51,92.12 L171.69,89.07 L171.87,85.89 L172.06,82.62 L172.24,79.31 L172.43,76.05 L172.55,73.85 L172.61,72.93 L172.79,70.09 L172.94,68.15 L172.98,67.72 L173.16,66.17 L173.20,66.05 L173.32,66.56 L173.34,66.67 L173.45,67.48 L173.53,68.12 L173.71,69.99 L173.89,72.14 L174.08,74.48 L174.26,76.94 L174.44,79.46 L174.63,82.01 L174.81,84.55 L175.00,87.05 L175.18,89.48 L175.36,91.82 L175.55,94.07 L175.64,95.15 L175.73,96.21 L175.89,98.03 L175.91,98.23 L176.10,100.13 L176.28,101.90 L176.46,103.56 L176.65,105.09 L176.83,106.50 L177.01,107.79 L177.20,108.98 L177.38,110.05 L177.56,111.03 L177.75,111.92 L177.93,112.71 L178.12,113.43 L178.30,114.07 L178.48,114.64 L178.67,115.15 L178.85,115.60 L179.03,115.99 L179.22,116.34 L179.40,116.65 L179.58,116.92 L179.77,117.15 L179.95,117.36 L180.13,117.53 L180.32,117.68 L180.50,117.81 L180.69,117.92 L180.87,118.02 L181.05,118.10 L181.24,118.17 L181.42,118.22 L181.60,118.27 L181.79,118.30 L181.97,118.33 L182.15,118.36 L182.34,118.37 L182.52,118.39 L182.71,118.39 L182.89,118.40 L183.07,118.40 L183.26,118.40 L183.44,118.40 L183.62,118.39 L183.81,118.38 L183.99,118.37 L184.17,118.36 L184.36,118.35 L184.54,118.34 L184.72,118.33 L184.91,118.31 L185.09,118.30 L185.28,118.28 L185.46,118.26 L185.64,118.25 L185.83,118.23 L186.01,118.21 L186.19,118.19 L186.38,118.17 L186.56,118.16 L186.74,118.14 L186.93,118.12 L187.11,118.10 L187.29,118.07 L187.48,118.05 L187.66,118.03 L187.84,118.01 L188.03,117.99 L188.21,117.97 L188.40,117.94 L188.58,117.92 L188.76,117.90 L188.95,117.88 L189.13,117.85 L189.31,117.83 L189.50,117.81 L189.68,117.78 L189.86,117.76 L190.05,117.73 L190.23,117.71 L190.41,117.68 L190.60,117.66 L190.78,117.64 L190.97,117.61 L191.15,117.59 L191.33,117.56 L191.52,117.54 L191.70,117.51 L191.88,117.49 L192.07,117.46 L192.25,117.44 L192.43,117.41 L192.62,117.39 L192.80,117.36 L192.99,117.34 L193.17,117.32 L193.35,117.29 L193.54,117.27 L193.72,117.24 L193.90,117.22 L194.09,117.20 L194.27,117.17 L194.45,117.15 L194.64,117.13 L194.82,117.10 L195.00,117.08 L195.19,117.06 L195.37,117.04 L195.56,117.02 L195.74,117.00 L195.92,116.98 L196.11,116.96 L196.29,116.94 L196.47,116.92 L196.66,116.90 L196.84,116.88 L197.02,116.86 L197.21,116.85 L197.39,116.83 L197.57,116.81 L197.76,116.80 L197.94,116.78 L198.12,116.77 L198.31,116.75 L198.49,116.74 L198.68,116.73 L198.86,116.72 L199.04,116.70 L199.23,116.69 L199.41,116.68 L199.59,116.67 L199.78,116.66 L199.96,116.66 L200.14,116.65 L200.33,116.64 L200.51,116.64 L200.69,116.63 L200.88,116.63 L201.06,116.62 L201.25,116.62 L201.43,116.62 L201.61,116.61 L201.80,116.61 L201.98,116.61 L202.16,116.61 L202.35,116.61 L202.53,116.61 L202.71,116.61 L202.90,116.62 L203.08,116.62 L203.26,116.62 L203.45,116.62 L203.63,116.63 L203.82,116.63 L204.00,116.63 L204.18,116.64 L204.37,116.64 L204.55,116.64 L204.73,116.65 L204.92,116.65 L205.10,116.66 L205.28,116.66 L205.47,116.67 L205.65,116.68 L205.84,116.68 L206.02,116.69 L206.20,116.70 L206.39,116.70 L206.57,116.71 L206.75,116.72 L206.94,116.73 L207.12,116.74 L207.30,116.74 L207.49,116.75 L207.67,116.76 L207.85,116.77 L208.04,116.78 L208.22,116.79 L208.41,116.80 L208.59,116.81 L208.77,116.82 L208.96,116.83 L209.14,116.85 L209.32,116.86 L209.51,116.87 L209.69,116.88 L209.87,116.89 L210.06,116.91 L210.24,116.92 L210.42,116.93 L210.61,116.94 L210.79,116.96 L210.97,116.97 L211.16,116.98 L211.34,117.00 L211.53,117.01 L211.71,117.02 L211.89,117.04 L212.08,117.05 L212.26,117.07 L212.44,117.08 L212.63,117.10 L212.81,117.11 L212.99,117.13 L213.18,117.14 L213.36,117.16 L213.55,117.17 L213.73,117.19 L213.91,117.20 L214.10,117.22 L214.28,117.24 L214.46,117.25 L214.65,117.27 L214.83,117.28 L215.01,117.30 L215.20,117.32 L215.38,117.33 L215.56,117.35 L215.75,117.36 L215.93,117.38 L216.12,117.40 L216.30,117.41 L216.48,117.43 L216.67,117.45 L216.85,117.46 L217.03,117.48 L217.22,117.50 L217.40,117.51 L217.58,117.53 L217.77,117.55 L217.95,117.56 L218.13,117.58 L218.32,117.59 L218.50,117.61 L218.69,117.63 L218.87,117.64 L219.05,117.66 L219.24,117.68 L219.42,117.69 L219.60,117.71 L219.79,117.73 L219.97,117.74 L220.15,117.76 L220.34,117.77 L220.52,117.79 L220.70,117.81 L220.89,117.82 L221.07,117.84 L221.25,117.85 L221.44,117.87 L221.62,117.88 L221.81,117.90 L221.99,117.91 L222.17,117.93 L222.36,117.94 L222.54,117.96 L222.72,117.97 L222.91,117.99 L223.09,118.00 L223.27,118.02 L223.46,118.03 L223.64,118.05 L223.82,118.06 L224.01,118.08 L224.19,118.09 L224.38,118.10 L224.56,118.12 L224.74,118.13 L224.93,118.14 L225.11,118.16 L225.29,118.17 L225.48,118.18 L225.66,118.20 L225.84,118.21 L226.03,118.22 L226.21,118.23 L226.40,118.25 L226.58,118.26 L226.76,118.27 L226.95,118.28 L227.13,118.29 L227.31,118.31 L227.50,118.32 L227.68,118.33 L227.86,118.34 L228.05,118.35 L228.23,118.36 L228.41,118.37 L228.60,118.38 L228.78,118.39 L228.97,118.41 L229.15,118.42 L229.33,118.43 L229.52,118.44 L229.70,118.45 L229.88,118.45 L230.07,118.46 L230.25,118.47 L230.43,118.48 L230.62,118.49 L230.80,118.50 L230.98,118.51 L231.17,118.52 L231.35,118.53 L231.53,118.54 L231.72,118.54 L231.90,118.55 L232.09,118.56 L232.27,118.57 L232.45,118.58 L232.64,118.58 L232.82,118.59 L233.00,118.60 L233.19,118.60 L233.37,118.61 L233.55,118.62 L233.74,118.63 L233.92,118.63 L234.10,118.64 L234.29,118.65 L234.47,118.65 L234.66,118.66 L234.84,118.66 L235.02,118.67 L235.21,118.68 L235.39,118.68 L235.57,118.69 L235.76,118.69 L235.94,118.70 L236.12,118.70 L236.31,118.71 L236.49,118.71 L236.68,118.72 L236.86,118.72 L237.04,118.73 L237.23,118.73 L237.41,118.74 L237.59,118.74 L237.78,118.75 L237.96,118.75 L238.14,118.75 L238.33,118.76 L238.51,118.76 L238.69,118.77 L238.88,118.77 L239.06,118.77 L239.25,118.78 L239.43,118.78 L239.61,118.78 L239.80,118.79 L239.98,118.79 L240.16,118.79 L240.35,118.80 L240.53,118.80 L240.71,118.80 L240.90,118.81 L241.08,118.81 L241.26,118.81 L241.45,118.81 L241.63,118.82 L241.81,118.82 L242.00,118.82 L242.18,118.82 L242.37,118.83 L242.55,118.83 L242.73,118.83 L242.92,118.83 L243.10,118.83 L243.28,118.84 L243.47,118.84 L243.65,118.84 L243.83,118.84 L244.02,118.84 L244.20,118.85 L244.38,118.85 L244.57,118.85 L244.75,118.85 L244.94,118.85 L245.12,118.85 L245.30,118.86 L245.49,118.86 L245.67,118.86 L245.85,118.86 L246.04,118.86 L246.22,118.86 L246.40,118.86 L246.59,118.87 L246.77,118.87 L246.95,118.87 L247.14,118.87 L247.32,118.87 L247.51,118.87 L247.69,118.87 L247.87,118.87 L248.06,118.87 L248.24,118.87 L248.42,118.88 L248.61,118.88 L248.79,118.88 L248.97,118.88 L249.16,118.88 L249.34,118.88 L249.52,118.88 L249.71,118.88 L249.89,118.88 L250.08,118.88 L250.26,118.88 L250.44,118.88 L250.63,118.88 L250.81,118.88 L250.99,118.89 L251.18,118.89 L251.36,118.89 L251.54,118.89 L251.73,118.89 L251.91,118.89 L252.09,118.89 L252.28,118.89 L252.46,118.89 L252.65,118.89 L252.83,118.89 L253.01,118.89 L253.20,118.89 L253.38,118.89 L253.56,118.89 L253.75,118.89 L253.93,118.89 L254.11,118.89 L254.30,118.89 L254.48,118.89 L254.67,118.89 L254.85,118.89 L255.03,118.89 L255.22,118.89 L255.40,118.89 L255.58,118.89 L255.77,118.89 L255.95,118.89 L256.13,118.90 L256.32,118.90 L256.50,118.90 L256.68,118.90 L256.87,118.90 L257.05,118.90 L257.24,118.90 L257.42,118.90 L257.60,118.90 L257.79,118.90 L257.97,118.90 L258.15,118.90 L258.34,118.90 L258.52,118.90 L258.70,118.90 L258.89,118.90 L259.07,118.90 L259.25,118.90 L259.44,118.90 L259.62,118.90 L259.81,118.90 L259.99,118.90 L260.17,118.90 L260.36,118.90 L260.54,118.90 L260.72,118.90 L260.91,118.90 L261.09,118.90 L261.27,118.90 L261.46,118.90 L261.64,118.90 L261.82,118.90 L262.01,118.90 L262.19,118.90 L262.38,118.90 L262.56,118.90 L262.74,118.90 L262.93,118.90 L263.11,118.90 L263.29,118.90 L263.48,118.90 L263.66,118.90 L263.84,118.90 L264.03,118.90 L264.21,118.90 L264.39,118.90 L264.58,118.90 L264.76,118.90 L264.94,118.90 L265.13,118.90 L265.31,118.90 L265.50,118.90 L265.68,118.90 L265.86,118.90 L266.05,118.90 L266.23,118.90 L266.41,118.90 L266.60,118.90 L266.78,118.90 L266.96,118.90 L267.15,118.90 L267.33,118.90 L267.51,118.90 L267.70,118.90 L267.88,118.90 L268.07,118.90 L268.25,118.90 L268.43,118.90 L268.62,118.90 L268.80,118.90" fill="none" stroke="#3a3c8c" stroke-width="1.3" stroke-linejoin="round"/>
<path d="M166.00,118.76 L166.18,118.73 L166.37,118.69 L166.55,118.63 L166.73,118.57 L166.92,118.49 L167.10,118.40 L167.28,118.28 L167.47,118.14 L167.65,117.98 L167.84,117.78 L168.02,117.53 L168.20,117.25 L168.39,116.91 L168.57,116.50 L168.75,116.03 L168.94,115.47 L169.12,114.82 L169.30,114.06 L169.49,113.19 L169.67,112.19 L169.85,111.04 L170.04,109.74 L170.22,108.27 L170.41,106.61 L170.59,104.77 L170.77,102.73 L170.96,100.48 L171.14,98.03 L171.32,95.38 L171.40,94.27 L171.51,92.55 L171.69,89.56 L171.87,86.43 L172.06,83.21 L172.24,79.96 L172.43,76.75 L172.55,74.58 L172.61,73.68 L172.79,70.89 L172.94,68.97 L172.98,68.56 L173.16,67.03 L173.20,66.92 L173.32,67.42 L173.34,67.53 L173.45,68.32 L173.53,68.95 L173.71,70.78 L173.89,72.89 L174.08,75.19 L174.26,77.61 L174.44,80.09 L174.63,82.60 L174.81,85.10 L175.00,87.55 L175.18,89.94 L175.36,92.24 L175.55,94.45 L175.64,95.51 L175.73,96.55 L175.89,98.34 L175.91,98.53 L176.10,100.40 L176.28,102.15 L176.46,103.77 L176.65,105.27 L176.83,106.66 L177.01,107.93 L177.20,109.09 L177.38,110.15 L177.56,111.11 L177.75,111.98 L177.93,112.76 L178.12,113.46 L178.30,114.09 L178.48,114.64 L178.67,115.14 L178.85,115.58 L179.03,115.97 L179.22,116.31 L179.40,116.61 L179.58,116.87 L179.77,117.09 L179.95,117.29 L180.13,117.46 L180.32,117.60 L180.50,117.73 L180.69,117.83 L180.87,117.92 L181.05,118.00 L181.24,118.06 L181.42,118.11 L181.60,118.15 L181.79,118.18 L181.97,118.20 L182.15,118.22 L182.34,118.23 L182.52,118.24 L182.71,118.25 L182.89,118.24 L183.07,118.24 L183.26,118.23 L183.44,118.22 L183.62,118.21 L183.81,118.20 L183.99,118.19 L184.17,118.17 L184.36,118.15 L184.54,118.13 L184.72,118.11 L184.91,118.09 L185.09,118.07 L185.28,118.05 L185.46,118.02 L185.64,118.00 L185.83,117.97 L186.01,117.95 L186.19,117.92 L186.38,117.90 L186.56,117.87 L186.74,117.84 L186.93,117.81 L187.11,117.79 L187.29,117.76 L187.48,117.73 L187.66,117.70 L187.84,117.67 L188.03,117.64 L188.21,117.61 L188.40,117.58 L188.58,117.55 L188.76,117.51 L188.95,117.48 L189.13,117.45 L189.31,117.42 L189.50,117.38 L189.68,117.35 L189.86,117.32 L190.05,117.28 L190.23,117.25 L190.41,117.22 L190.60,117.18 L190.78,117.15 L190.97,117.12 L191.15,117.08 L191.33,117.05 L191.52,117.01 L191.70,116.98 L191.88,116.94 L192.07,116.91 L192.25,116.88 L192.43,116.84 L192.62,116.81 L192.80,116.77 L192.99,116.74 L193.17,116.71 L193.35,116.67 L193.54,116.64 L193.72,116.61 L193.90,116.57 L194.09,116.54 L194.27,116.51 L194.45,116.48 L194.64,116.45 L194.82,116.41 L195.00,116.38 L195.19,116.35 L195.37,116.32 L195.56,116.29 L195.74,116.27 L195.92,116.24 L196.11,116.21 L196.29,116.18 L196.47,116.16 L196.66,116.13 L196.84,116.10 L197.02,116.08 L197.21,116.06 L197.39,116.03 L197.57,116.01 L197.76,115.99 L197.94,115.97 L198.12,115.95 L198.31,115.93 L198.49,115.91 L198.68,115.89 L198.86,115.87 L199.04,115.86 L199.23,115.84 L199.41,115.83 L199.59,115.82 L199.78,115.80 L199.96,115.79 L200.14,115.78 L200.33,115.77 L200.51,115.76 L200.69,115.76 L200.88,115.75 L201.06,115.74 L201.25,115.74 L201.43,115.74 L201.61,115.73 L201.80,115.73 L201.98,115.73 L202.16,115.73 L202.35,115.73 L202.53,115.73 L202.71,115.74 L202.90,115.74 L203.08,115.74 L203.26,115.74 L203.45,115.75 L203.63,115.75 L203.82,115.75 L204.00,115.76 L204.18,115.76 L204.37,115.77 L204.55,115.78 L204.73,115.78 L204.92,115.79 L205.10,115.80 L205.28,115.80 L205.47,115.81 L205.65,115.82 L205.84,115.83 L206.02,115.84 L206.20,115.85 L206.39,115.86 L206.57,115.87 L206.75,115.88 L206.94,115.89 L207.12,115.90 L207.30,115.92 L207.49,115.93 L207.67,115.94 L207.85,115.95 L208.04,115.97 L208.22,115.98 L208.41,116.00 L208.59,116.01 L208.77,116.02 L208.96,116.04 L209.14,116.06 L209.32,116.07 L209.51,116.09 L209.69,116.10 L209.87,116.12 L210.06,116.14 L210.24,116.16 L210.42,116.17 L210.61,116.19 L210.79,116.21 L210.97,116.23 L211.16,116.25 L211.34,116.27 L211.53,116.28 L211.71,116.30 L211.89,116.32 L212.08,116.34 L212.26,116.36 L212.44,116.38 L212.63,116.40 L212.81,116.42 L212.99,116.45 L213.18,116.47 L213.36,116.49 L213.55,116.51 L213.73,116.53 L213.91,116.55 L214.10,116.57 L214.28,116.60 L214.46,116.62 L214.65,116.64 L214.83,116.66 L215.01,116.68 L215.20,116.71 L215.38,116.73 L215.56,116.75 L215.75,116.77 L215.93,116.80 L216.12,116.82 L216.30,116.84 L216.48,116.86 L216.67,116.89 L216.85,116.91 L217.03,116.93 L217.22,116.96 L217.40,116.98 L217.58,117.00 L217.77,117.02 L217.95,117.05 L218.13,117.07 L218.32,117.09 L218.50,117.12 L218.69,117.14 L218.87,117.16 L219.05,117.18 L219.24,117.21 L219.42,117.23 L219.60,117.25 L219.79,117.27 L219.97,117.30 L220.15,117.32 L220.34,117.34 L220.52,117.36 L220.70,117.38 L220.89,117.41 L221.07,117.43 L221.25,117.45 L221.44,117.47 L221.62,117.49 L221.81,117.51 L221.99,117.53 L222.17,117.56 L222.36,117.58 L222.54,117.60 L222.72,117.62 L222.91,117.64 L223.09,117.66 L223.27,117.68 L223.46,117.70 L223.64,117.72 L223.82,117.74 L224.01,117.76 L224.19,117.78 L224.38,117.80 L224.56,117.82 L224.74,117.83 L224.93,117.85 L225.11,117.87 L225.29,117.89 L225.48,117.91 L225.66,117.93 L225.84,117.94 L226.03,117.96 L226.21,117.98 L226.40,118.00 L226.58,118.01 L226.76,118.03 L226.95,118.05 L227.13,118.06 L227.31,118.08 L227.50,118.09 L227.68,118.11 L227.86,118.13 L228.05,118.14 L228.23,118.16 L228.41,118.17 L228.60,118.19 L228.78,118.20 L228.97,118.21 L229.15,118.23 L229.33,118.24 L229.52,118.26 L229.70,118.27 L229.88,118.28 L230.07,118.30 L230.25,118.31 L230.43,118.32 L230.62,118.34 L230.80,118.35 L230.98,118.36 L231.17,118.37 L231.35,118.38 L231.53,118.40 L231.72,118.41 L231.90,118.42 L232.09,118.43 L232.27,118.44 L232.45,118.45 L232.64,118.46 L232.82,118.47 L233.00,118.48 L233.19,118.49 L233.37,118.50 L233.55,118.51 L233.74,118.52 L233.92,118.53 L234.10,118.54 L234.29,118.55 L234.47,118.56 L234.66,118.56 L234.84,118.57 L235.02,118.58 L235.21,118.59 L235.39,118.60 L235.57,118.60 L235.76,118.61 L235.94,118.62 L236.12,118.63 L236.31,118.63 L236.49,118.64 L236.68,118.65 L236.86,118.65 L237.04,118.66 L237.23,118.67 L237.41,118.67 L237.59,118.68 L237.78,118.69 L237.96,118.69 L238.14,118.70 L238.33,118.70 L238.51,118.71 L238.69,118.71 L238.88,118.72 L239.06,118.72 L239.25,118.73 L239.43,118.73 L239.61,118.74 L239.80,118.74 L239.98,118.75 L240.16,118.75 L240.35,118.76 L240.53,118.76 L240.71,118.76 L240.90,118.77 L241.08,118.77 L241.26,118.78 L241.45,118.78 L241.63,118.78 L241.81,118.79 L242.00,118.79 L242.18,118.79 L242.37,118.80 L242.55,118.80 L242.73,118.80 L242.92,118.81 L243.10,118.81 L243.28,118.81 L243.47,118.82 L243.65,118.82 L243.83,118.82 L244.02,118.82 L244.20,118.83 L244.38,118.83 L244.57,118.83 L244.75,118.83 L244.94,118.83 L245.12,118.84 L245.30,118.84 L245.49,118.84 L245.67,118.84 L245.85,118.84 L246.04,118.85 L246.22,118.85 L246.40,118.85 L246.59,118.85 L246.77,118.85 L246.95,118.85 L247.14,118.86 L247.32,118.86 L247.51,118.86 L247.69,118.86 L247.87,118.86 L248.06,118.86 L248.24,118.86 L248.42,118.87 L248.61,118.87 L248.79,118.87 L248.97,118.87 L249.16,118.87 L249.34,118.87 L249.52,118.87 L249.71,118.87 L249.89,118.87 L250.08,118.88 L250.26,118.88 L250.44,118.88 L250.63,118.88 L250.81,118.88 L250.99,118.88 L251.18,118.88 L251.36,118.88 L251.54,118.88 L251.73,118.88 L251.91,118.88 L252.09,118.88 L252.28,118.88 L252.46,118.89 L252.65,118.89 L252.83,118.89 L253.01,118.89 L253.20,118.89 L253.38,118.89 L253.56,118.89 L253.75,118.89 L253.93,118.89 L254.11,118.89 L254.30,118.89 L254.48,118.89 L254.67,118.89 L254.85,118.89 L255.03,118.89 L255.22,118.89 L255.40,118.89 L255.58,118.89 L255.77,118.89 L255.95,118.89 L256.13,118.89 L256.32,118.89 L256.50,118.89 L256.68,118.89 L256.87,118.89 L257.05,118.89 L257.24,118.89 L257.42,118.90 L257.60,118.90 L257.79,118.90 L257.97,118.90 L258.15,118.90 L258.34,118.90 L258.52,118.90 L258.70,118.90 L258.89,118.90 L259.07,118.90 L259.25,118.90 L259.44,118.90 L259.62,118.90 L259.81,118.90 L259.99,118.90 L260.17,118.90 L260.36,118.90 L260.54,118.90 L260.72,118.90 L260.91,118.90 L261.09,118.90 L261.27,118.90 L261.46,118.90 L261.64,118.90 L261.82,118.90 L262.01,118.90 L262.19,118.90 L262.38,118.90 L262.56,118.90 L262.74,118.90 L262.93,118.90 L263.11,118.90 L263.29,118.90 L263.48,118.90 L263.66,118.90 L263.84,118.90 L264.03,118.90 L264.21,118.90 L264.39,118.90 L264.58,118.90 L264.76,118.90 L264.94,118.90 L265.13,118.90 L265.31,118.90 L265.50,118.90 L265.68,118.90 L265.86,118.90 L266.05,118.90 L266.23,118.90 L266.41,118.90 L266.60,118.90 L266.78,118.90 L266.96,118.90 L267.15,118.90 L267.33,118.90 L267.51,118.90 L267.70,118.90 L267.88,118.90 L268.07,118.90 L268.25,118.90 L268.43,118.90 L268.62,118.90 L268.80,118.90" fill="none" stroke="#1a1a1a" stroke-width="1.4" stroke-linejoin="round" stroke-dasharray="1.6,1.3"/>
<line x1="166.00" y1="13.30" x2="166.00" y2="119.40" stroke="#222" stroke-width="1.1"/>
<line x1="163.20" y1="118.90" x2="166.00" y2="118.90" stroke="#222" stroke-width="1"/>
<text x="161.80" y="121.40" font-size="7.2" text-anchor="end" fill="#333"  stroke="#333" stroke-width="0.25">0</text>
<line x1="163.20" y1="101.30" x2="166.00" y2="101.30" stroke="#222" stroke-width="1"/>
<text x="161.80" y="103.80" font-size="7.2" text-anchor="end" fill="#333"  stroke="#333" stroke-width="0.25">1</text>
<line x1="163.20" y1="83.70" x2="166.00" y2="83.70" stroke="#222" stroke-width="1"/>
<text x="161.80" y="86.20" font-size="7.2" text-anchor="end" fill="#333"  stroke="#333" stroke-width="0.25">2</text>
<line x1="163.20" y1="66.10" x2="166.00" y2="66.10" stroke="#222" stroke-width="1"/>
<text x="161.80" y="68.60" font-size="7.2" text-anchor="end" fill="#333"  stroke="#333" stroke-width="0.25">3</text>
<line x1="163.20" y1="48.50" x2="166.00" y2="48.50" stroke="#222" stroke-width="1"/>
<text x="161.80" y="51.00" font-size="7.2" text-anchor="end" fill="#333"  stroke="#333" stroke-width="0.25">4</text>
<line x1="163.20" y1="30.90" x2="166.00" y2="30.90" stroke="#222" stroke-width="1"/>
<text x="161.80" y="33.40" font-size="7.2" text-anchor="end" fill="#333"  stroke="#333" stroke-width="0.25">5</text>
<line x1="163.20" y1="13.30" x2="166.00" y2="13.30" stroke="#222" stroke-width="1"/>
<text x="161.80" y="15.80" font-size="7.2" text-anchor="end" fill="#333"  stroke="#333" stroke-width="0.25">6</text>
<line x1="165.50" y1="118.70" x2="269.30" y2="118.70" stroke="#1c1c38" stroke-width="1.8"/>
<line x1="166.00" y1="118.90" x2="166.00" y2="121.70" stroke="#222" stroke-width="1"/>
<text x="166.00" y="128.10" font-size="7.2" text-anchor="middle" fill="#333"  stroke="#333" stroke-width="0.25">0</text>
<line x1="191.70" y1="118.90" x2="191.70" y2="121.70" stroke="#222" stroke-width="1"/>
<text x="191.70" y="128.10" font-size="7.2" text-anchor="middle" fill="#333"  stroke="#333" stroke-width="0.25">2</text>
<line x1="217.40" y1="118.90" x2="217.40" y2="121.70" stroke="#222" stroke-width="1"/>
<text x="217.40" y="128.10" font-size="7.2" text-anchor="middle" fill="#333"  stroke="#333" stroke-width="0.25">4</text>
<line x1="243.10" y1="118.90" x2="243.10" y2="121.70" stroke="#222" stroke-width="1"/>
<text x="243.10" y="128.10" font-size="7.2" text-anchor="middle" fill="#333"  stroke="#333" stroke-width="0.25">6</text>
<line x1="268.80" y1="118.90" x2="268.80" y2="121.70" stroke="#222" stroke-width="1"/>
<text x="268.80" y="128.10" font-size="7.2" text-anchor="middle" fill="#333"  stroke="#333" stroke-width="0.25">8</text>
<text x="218.80" y="138.00" font-size="9.4" text-anchor="middle" fill="#1a1a1a"  stroke="#1a1a1a" stroke-width="0.25">Normalized redox</text>
<text x="218.80" y="148.60" font-size="9.4" text-anchor="middle" fill="#1a1a1a"  stroke="#1a1a1a" stroke-width="0.25">ratio [NAD(P)H/FAD]</text>
<text transform="translate(153.10,65.6) rotate(-90)" font-size="9.5" text-anchor="middle" fill="#1a1a1a" stroke="#1a1a1a" stroke-width="0.28">Normalized cell number</text>
<text x="279.20" y="10.60" font-size="13.2" text-anchor="start" fill="#111" font-weight="bold" stroke="#111" stroke-width="0.5">C</text>
<text x="336.30" y="15.50" font-size="10.5" text-anchor="start" fill="#1a1a1a"  stroke="#1a1a1a" stroke-width="0.25">72 hours</text>
<path d="M305.20,118.14 L305.38,117.89 L305.57,117.56 L305.75,117.14 L305.93,116.61 L306.12,115.94 L306.30,115.12 L306.49,114.11 L306.67,112.89 L306.85,111.44 L307.04,109.74 L307.22,107.76 L307.40,105.48 L307.59,102.91 L307.77,100.04 L307.95,96.89 L308.14,93.47 L308.32,89.82 L308.50,85.99 L308.69,82.04 L308.87,78.04 L309.06,74.08 L309.24,70.24 L309.42,66.62 L309.61,63.31 L309.79,60.41 L309.97,57.98 L310.16,56.12 L310.34,54.86 L310.52,54.26 L310.60,54.20 L310.71,54.32 L310.89,55.05 L311.07,56.43 L311.26,58.40 L311.44,60.92 L311.62,63.91 L311.75,66.24 L311.81,67.28 L311.99,70.95 L312.14,74.03 L312.18,74.81 L312.36,78.78 L312.40,79.58 L312.52,82.37 L312.54,82.77 L312.65,85.13 L312.73,86.69 L312.91,90.48 L313.09,94.08 L313.28,97.44 L313.46,100.54 L313.64,103.34 L313.83,105.84 L314.01,108.05 L314.19,109.97 L314.38,111.61 L314.56,113.01 L314.75,114.17 L314.84,114.68 L314.93,115.13 L315.09,115.85 L315.11,115.92 L315.30,116.55 L315.48,117.05 L315.66,117.44 L315.85,117.74 L316.03,117.98 L316.21,118.15 L316.40,118.28 L316.58,118.37 L316.76,118.44 L316.95,118.49 L317.13,118.52 L317.32,118.54 L317.50,118.55 L317.68,118.56 L317.87,118.56 L318.05,118.56 L318.23,118.55 L318.42,118.55 L318.60,118.54 L318.78,118.53 L318.97,118.52 L319.15,118.51 L319.33,118.50 L319.52,118.50 L319.70,118.49 L319.89,118.48 L320.07,118.46 L320.25,118.45 L320.44,118.44 L320.62,118.43 L320.80,118.42 L320.99,118.41 L321.17,118.40 L321.35,118.39 L321.54,118.37 L321.72,118.36 L321.90,118.35 L322.09,118.34 L322.27,118.32 L322.46,118.31 L322.64,118.30 L322.82,118.28 L323.01,118.27 L323.19,118.26 L323.37,118.24 L323.56,118.23 L323.74,118.21 L323.92,118.20 L324.11,118.18 L324.29,118.17 L324.47,118.15 L324.66,118.14 L324.84,118.12 L325.03,118.10 L325.21,118.09 L325.39,118.07 L325.58,118.05 L325.76,118.04 L325.94,118.02 L326.13,118.00 L326.31,117.98 L326.49,117.96 L326.68,117.94 L326.86,117.93 L327.04,117.91 L327.23,117.89 L327.41,117.87 L327.60,117.85 L327.78,117.83 L327.96,117.81 L328.15,117.79 L328.33,117.77 L328.51,117.74 L328.70,117.72 L328.88,117.70 L329.06,117.68 L329.25,117.66 L329.43,117.63 L329.62,117.61 L329.80,117.59 L329.98,117.56 L330.17,117.54 L330.35,117.52 L330.53,117.49 L330.72,117.47 L330.90,117.44 L331.08,117.42 L331.27,117.40 L331.45,117.37 L331.63,117.34 L331.82,117.32 L332.00,117.29 L332.19,117.27 L332.37,117.24 L332.55,117.21 L332.74,117.19 L332.92,117.16 L333.10,117.13 L333.29,117.11 L333.47,117.08 L333.65,117.05 L333.84,117.02 L334.02,116.99 L334.20,116.97 L334.39,116.94 L334.57,116.91 L334.75,116.88 L334.94,116.85 L335.12,116.82 L335.31,116.79 L335.49,116.76 L335.67,116.73 L335.86,116.70 L336.04,116.67 L336.22,116.64 L336.41,116.61 L336.59,116.58 L336.77,116.55 L336.96,116.52 L337.14,116.49 L337.32,116.46 L337.51,116.43 L337.69,116.40 L337.88,116.36 L338.06,116.33 L338.24,116.30 L338.43,116.27 L338.61,116.24 L338.79,116.21 L338.98,116.18 L339.16,116.14 L339.34,116.11 L339.53,116.08 L339.71,116.05 L339.89,116.02 L340.08,115.99 L340.26,115.95 L340.45,115.92 L340.63,115.89 L340.81,115.86 L341.00,115.83 L341.18,115.80 L341.36,115.77 L341.55,115.73 L341.73,115.70 L341.91,115.67 L342.10,115.64 L342.28,115.61 L342.46,115.58 L342.65,115.55 L342.83,115.52 L343.02,115.49 L343.20,115.46 L343.38,115.43 L343.57,115.39 L343.75,115.37 L343.93,115.34 L344.12,115.31 L344.30,115.28 L344.48,115.25 L344.67,115.22 L344.85,115.19 L345.03,115.16 L345.22,115.13 L345.40,115.10 L345.59,115.08 L345.77,115.05 L345.95,115.02 L346.14,114.99 L346.32,114.97 L346.50,114.94 L346.69,114.92 L346.87,114.89 L347.05,114.86 L347.24,114.84 L347.42,114.81 L347.60,114.79 L347.79,114.77 L347.97,114.74 L348.16,114.72 L348.34,114.69 L348.52,114.67 L348.71,114.65 L348.89,114.63 L349.07,114.61 L349.26,114.59 L349.44,114.56 L349.62,114.54 L349.81,114.53 L349.99,114.51 L350.18,114.49 L350.36,114.47 L350.54,114.45 L350.73,114.43 L350.91,114.42 L351.09,114.40 L351.28,114.38 L351.46,114.37 L351.64,114.35 L351.83,114.34 L352.01,114.32 L352.19,114.31 L352.38,114.30 L352.56,114.28 L352.75,114.27 L352.93,114.26 L353.11,114.25 L353.30,114.24 L353.48,114.23 L353.66,114.22 L353.85,114.21 L354.03,114.20 L354.21,114.20 L354.40,114.19 L354.58,114.18 L354.76,114.18 L354.95,114.17 L355.13,114.17 L355.31,114.16 L355.50,114.16 L355.68,114.16 L355.87,114.15 L356.05,114.15 L356.23,114.15 L356.42,114.15 L356.60,114.15 L356.78,114.15 L356.97,114.15 L357.15,114.15 L357.33,114.15 L357.52,114.15 L357.70,114.15 L357.88,114.15 L358.07,114.16 L358.25,114.16 L358.44,114.16 L358.62,114.16 L358.80,114.16 L358.99,114.17 L359.17,114.17 L359.35,114.17 L359.54,114.18 L359.72,114.18 L359.90,114.18 L360.09,114.19 L360.27,114.19 L360.45,114.20 L360.64,114.20 L360.82,114.21 L361.01,114.21 L361.19,114.22 L361.37,114.22 L361.56,114.23 L361.74,114.23 L361.92,114.24 L362.11,114.25 L362.29,114.25 L362.47,114.26 L362.66,114.27 L362.84,114.27 L363.02,114.28 L363.21,114.29 L363.39,114.30 L363.58,114.30 L363.76,114.31 L363.94,114.32 L364.13,114.33 L364.31,114.34 L364.49,114.35 L364.68,114.36 L364.86,114.37 L365.04,114.38 L365.23,114.38 L365.41,114.39 L365.59,114.40 L365.78,114.42 L365.96,114.43 L366.15,114.44 L366.33,114.45 L366.51,114.46 L366.70,114.47 L366.88,114.48 L367.06,114.49 L367.25,114.50 L367.43,114.52 L367.61,114.53 L367.80,114.54 L367.98,114.55 L368.16,114.56 L368.35,114.58 L368.53,114.59 L368.72,114.60 L368.90,114.62 L369.08,114.63 L369.27,114.64 L369.45,114.66 L369.63,114.67 L369.82,114.69 L370.00,114.70 L370.18,114.71 L370.37,114.73 L370.55,114.74 L370.74,114.76 L370.92,114.77 L371.10,114.79 L371.29,114.80 L371.47,114.82 L371.65,114.83 L371.84,114.85 L372.02,114.86 L372.20,114.88 L372.39,114.90 L372.57,114.91 L372.75,114.93 L372.94,114.94 L373.12,114.96 L373.30,114.98 L373.49,114.99 L373.67,115.01 L373.86,115.03 L374.04,115.04 L374.22,115.06 L374.41,115.08 L374.59,115.09 L374.77,115.11 L374.96,115.13 L375.14,115.15 L375.32,115.16 L375.51,115.18 L375.69,115.20 L375.88,115.22 L376.06,115.24 L376.24,115.25 L376.43,115.27 L376.61,115.29 L376.79,115.31 L376.98,115.33 L377.16,115.35 L377.34,115.36 L377.53,115.38 L377.71,115.40 L377.89,115.42 L378.08,115.44 L378.26,115.46 L378.44,115.48 L378.63,115.49 L378.81,115.51 L379.00,115.53 L379.18,115.55 L379.36,115.57 L379.55,115.59 L379.73,115.61 L379.91,115.63 L380.10,115.65 L380.28,115.67 L380.46,115.69 L380.65,115.71 L380.83,115.72 L381.01,115.74 L381.20,115.76 L381.38,115.78 L381.57,115.80 L381.75,115.82 L381.93,115.84 L382.12,115.86 L382.30,115.88 L382.48,115.90 L382.67,115.92 L382.85,115.94 L383.03,115.96 L383.22,115.98 L383.40,116.00 L383.58,116.02 L383.77,116.04 L383.95,116.06 L384.14,116.08 L384.32,116.10 L384.50,116.12 L384.69,116.14 L384.87,116.15 L385.05,116.17 L385.24,116.19 L385.42,116.21 L385.60,116.23 L385.79,116.25 L385.97,116.27 L386.15,116.29 L386.34,116.31 L386.52,116.33 L386.71,116.35 L386.89,116.37 L387.07,116.39 L387.26,116.41 L387.44,116.43 L387.62,116.45 L387.81,116.47 L387.99,116.48 L388.17,116.50 L388.36,116.52 L388.54,116.54 L388.72,116.56 L388.91,116.58 L389.09,116.60 L389.28,116.62 L389.46,116.64 L389.64,116.65 L389.83,116.67 L390.01,116.69 L390.19,116.71 L390.38,116.73 L390.56,116.75 L390.74,116.77 L390.93,116.78 L391.11,116.80 L391.29,116.82 L391.48,116.84 L391.66,116.86 L391.85,116.87 L392.03,116.89 L392.21,116.91 L392.40,116.93 L392.58,116.95 L392.76,116.96 L392.95,116.98 L393.13,117.00 L393.31,117.02 L393.50,117.03 L393.68,117.05 L393.87,117.07 L394.05,117.09 L394.23,117.10 L394.42,117.12 L394.60,117.14 L394.78,117.15 L394.97,117.17 L395.15,117.19 L395.33,117.20 L395.52,117.22 L395.70,117.24 L395.88,117.25 L396.07,117.27 L396.25,117.29 L396.44,117.30 L396.62,117.32 L396.80,117.33 L396.99,117.35 L397.17,117.37 L397.35,117.38 L397.54,117.40 L397.72,117.41 L397.90,117.43 L398.09,117.44 L398.27,117.46 L398.45,117.47 L398.64,117.49 L398.82,117.50 L399.00,117.52 L399.19,117.53 L399.37,117.55 L399.56,117.56 L399.74,117.58 L399.92,117.59 L400.11,117.60 L400.29,117.62 L400.47,117.63 L400.66,117.65 L400.84,117.66 L401.02,117.67 L401.21,117.69 L401.39,117.70 L401.57,117.72 L401.76,117.73 L401.94,117.74 L402.13,117.75 L402.31,117.77 L402.49,117.78 L402.68,117.79 L402.86,117.81 L403.04,117.82 L403.23,117.83 L403.41,117.84 L403.59,117.86 L403.78,117.87 L403.96,117.88 L404.14,117.89 L404.33,117.91 L404.51,117.92 L404.70,117.93 L404.88,117.94 L405.06,117.95 L405.25,117.96 L405.43,117.98 L405.61,117.99 L405.80,118.00 L405.98,118.01 L406.16,118.02 L406.35,118.03 L406.53,118.04 L406.71,118.05 L406.90,118.06 L407.08,118.07 L407.27,118.08 L407.45,118.09 L407.63,118.11 L407.82,118.12 L408.00,118.13" fill="none" stroke="#bc4c5a" stroke-width="1.1" stroke-linejoin="round"/>
<path d="M305.20,118.83 L305.38,118.81 L305.57,118.79 L305.75,118.76 L305.93,118.72 L306.12,118.66 L306.30,118.59 L306.49,118.50 L306.67,118.37 L306.85,118.21 L307.04,118.01 L307.22,117.75 L307.40,117.43 L307.59,117.03 L307.77,116.53 L307.95,115.93 L308.14,115.21 L308.32,114.35 L308.50,113.34 L308.69,112.16 L308.87,110.80 L309.06,109.25 L309.24,107.51 L309.42,105.58 L309.61,103.45 L309.79,101.14 L309.97,98.67 L310.16,96.06 L310.34,93.35 L310.52,90.58 L310.60,89.46 L310.71,87.78 L310.89,85.02 L311.07,82.34 L311.26,79.81 L311.44,77.47 L311.62,75.40 L311.75,74.12 L311.81,73.63 L311.99,72.21 L312.14,71.35 L312.18,71.18 L312.36,70.57 L312.40,70.50 L312.52,70.39 L312.54,70.39 L312.65,70.49 L312.73,70.65 L312.91,71.34 L313.09,72.44 L313.28,73.93 L313.46,75.76 L313.64,77.89 L313.83,80.26 L314.01,82.82 L314.19,85.52 L314.38,88.28 L314.56,91.07 L314.75,93.84 L314.84,95.19 L314.93,96.52 L315.09,98.85 L315.11,99.10 L315.30,101.53 L315.48,103.80 L315.66,105.88 L315.85,107.78 L316.03,109.47 L316.21,110.98 L316.40,112.29 L316.58,113.43 L316.76,114.41 L316.95,115.23 L317.13,115.92 L317.32,116.49 L317.50,116.96 L317.68,117.34 L317.87,117.64 L318.05,117.88 L318.23,118.07 L318.42,118.22 L318.60,118.33 L318.78,118.41 L318.97,118.47 L319.15,118.52 L319.33,118.55 L319.52,118.57 L319.70,118.59 L319.89,118.59 L320.07,118.60 L320.25,118.60 L320.44,118.60 L320.62,118.60 L320.80,118.60 L320.99,118.59 L321.17,118.59 L321.35,118.58 L321.54,118.58 L321.72,118.57 L321.90,118.56 L322.09,118.56 L322.27,118.55 L322.46,118.54 L322.64,118.54 L322.82,118.53 L323.01,118.52 L323.19,118.52 L323.37,118.51 L323.56,118.50 L323.74,118.50 L323.92,118.49 L324.11,118.48 L324.29,118.48 L324.47,118.47 L324.66,118.46 L324.84,118.45 L325.03,118.45 L325.21,118.44 L325.39,118.43 L325.58,118.42 L325.76,118.42 L325.94,118.41 L326.13,118.40 L326.31,118.39 L326.49,118.38 L326.68,118.38 L326.86,118.37 L327.04,118.36 L327.23,118.35 L327.41,118.34 L327.60,118.34 L327.78,118.33 L327.96,118.32 L328.15,118.31 L328.33,118.30 L328.51,118.29 L328.70,118.28 L328.88,118.28 L329.06,118.27 L329.25,118.26 L329.43,118.25 L329.62,118.24 L329.80,118.23 L329.98,118.22 L330.17,118.21 L330.35,118.20 L330.53,118.19 L330.72,118.19 L330.90,118.18 L331.08,118.17 L331.27,118.16 L331.45,118.15 L331.63,118.14 L331.82,118.13 L332.00,118.12 L332.19,118.11 L332.37,118.10 L332.55,118.09 L332.74,118.08 L332.92,118.07 L333.10,118.06 L333.29,118.06 L333.47,118.05 L333.65,118.04 L333.84,118.03 L334.02,118.02 L334.20,118.01 L334.39,118.00 L334.57,117.99 L334.75,117.98 L334.94,117.97 L335.12,117.96 L335.31,117.95 L335.49,117.94 L335.67,117.93 L335.86,117.92 L336.04,117.92 L336.22,117.91 L336.41,117.90 L336.59,117.89 L336.77,117.88 L336.96,117.87 L337.14,117.86 L337.32,117.85 L337.51,117.84 L337.69,117.83 L337.88,117.83 L338.06,117.82 L338.24,117.81 L338.43,117.80 L338.61,117.79 L338.79,117.78 L338.98,117.78 L339.16,117.77 L339.34,117.76 L339.53,117.75 L339.71,117.74 L339.89,117.73 L340.08,117.73 L340.26,117.72 L340.45,117.71 L340.63,117.70 L340.81,117.70 L341.00,117.69 L341.18,117.68 L341.36,117.67 L341.55,117.67 L341.73,117.66 L341.91,117.65 L342.10,117.65 L342.28,117.64 L342.46,117.63 L342.65,117.63 L342.83,117.62 L343.02,117.62 L343.20,117.61 L343.38,117.60 L343.57,117.60 L343.75,117.59 L343.93,117.59 L344.12,117.58 L344.30,117.58 L344.48,117.57 L344.67,117.57 L344.85,117.56 L345.03,117.56 L345.22,117.55 L345.40,117.55 L345.59,117.54 L345.77,117.54 L345.95,117.54 L346.14,117.53 L346.32,117.53 L346.50,117.53 L346.69,117.52 L346.87,117.52 L347.05,117.52 L347.24,117.51 L347.42,117.51 L347.60,117.51 L347.79,117.51 L347.97,117.50 L348.16,117.50 L348.34,117.50 L348.52,117.50 L348.71,117.50 L348.89,117.50 L349.07,117.50 L349.26,117.49 L349.44,117.49 L349.62,117.49 L349.81,117.49 L349.99,117.49 L350.18,117.49 L350.36,117.49 L350.54,117.49 L350.73,117.49 L350.91,117.49 L351.09,117.49 L351.28,117.49 L351.46,117.49 L351.64,117.49 L351.83,117.49 L352.01,117.50 L352.19,117.50 L352.38,117.50 L352.56,117.50 L352.75,117.50 L352.93,117.50 L353.11,117.50 L353.30,117.50 L353.48,117.50 L353.66,117.50 L353.85,117.51 L354.03,117.51 L354.21,117.51 L354.40,117.51 L354.58,117.51 L354.76,117.51 L354.95,117.52 L355.13,117.52 L355.31,117.52 L355.50,117.52 L355.68,117.52 L355.87,117.53 L356.05,117.53 L356.23,117.53 L356.42,117.53 L356.60,117.54 L356.78,117.54 L356.97,117.54 L357.15,117.54 L357.33,117.55 L357.52,117.55 L357.70,117.55 L357.88,117.55 L358.07,117.56 L358.25,117.56 L358.44,117.56 L358.62,117.57 L358.80,117.57 L358.99,117.57 L359.17,117.58 L359.35,117.58 L359.54,117.58 L359.72,117.59 L359.90,117.59 L360.09,117.59 L360.27,117.60 L360.45,117.60 L360.64,117.60 L360.82,117.61 L361.01,117.61 L361.19,117.62 L361.37,117.62 L361.56,117.62 L361.74,117.63 L361.92,117.63 L362.11,117.64 L362.29,117.64 L362.47,117.64 L362.66,117.65 L362.84,117.65 L363.02,117.66 L363.21,117.66 L363.39,117.67 L363.58,117.67 L363.76,117.68 L363.94,117.68 L364.13,117.68 L364.31,117.69 L364.49,117.69 L364.68,117.70 L364.86,117.70 L365.04,117.71 L365.23,117.71 L365.41,117.72 L365.59,117.72 L365.78,117.73 L365.96,117.73 L366.15,117.74 L366.33,117.74 L366.51,117.75 L366.70,117.75 L366.88,117.76 L367.06,117.77 L367.25,117.77 L367.43,117.78 L367.61,117.78 L367.80,117.79 L367.98,117.79 L368.16,117.80 L368.35,117.80 L368.53,117.81 L368.72,117.81 L368.90,117.82 L369.08,117.83 L369.27,117.83 L369.45,117.84 L369.63,117.84 L369.82,117.85 L370.00,117.85 L370.18,117.86 L370.37,117.87 L370.55,117.87 L370.74,117.88 L370.92,117.88 L371.10,117.89 L371.29,117.90 L371.47,117.90 L371.65,117.91 L371.84,117.91 L372.02,117.92 L372.20,117.92 L372.39,117.93 L372.57,117.94 L372.75,117.94 L372.94,117.95 L373.12,117.95 L373.30,117.96 L373.49,117.97 L373.67,117.97 L373.86,117.98 L374.04,117.99 L374.22,117.99 L374.41,118.00 L374.59,118.00 L374.77,118.01 L374.96,118.02 L375.14,118.02 L375.32,118.03 L375.51,118.03 L375.69,118.04 L375.88,118.05 L376.06,118.05 L376.24,118.06 L376.43,118.06 L376.61,118.07 L376.79,118.08 L376.98,118.08 L377.16,118.09 L377.34,118.09 L377.53,118.10 L377.71,118.11 L377.89,118.11 L378.08,118.12 L378.26,118.13 L378.44,118.13 L378.63,118.14 L378.81,118.14 L379.00,118.15 L379.18,118.16 L379.36,118.16 L379.55,118.17 L379.73,118.17 L379.91,118.18 L380.10,118.19 L380.28,118.19 L380.46,118.20 L380.65,118.20 L380.83,118.21 L381.01,118.21 L381.20,118.22 L381.38,118.23 L381.57,118.23 L381.75,118.24 L381.93,118.24 L382.12,118.25 L382.30,118.26 L382.48,118.26 L382.67,118.27 L382.85,118.27 L383.03,118.28 L383.22,118.28 L383.40,118.29 L383.58,118.30 L383.77,118.30 L383.95,118.31 L384.14,118.31 L384.32,118.32 L384.50,118.32 L384.69,118.33 L384.87,118.33 L385.05,118.34 L385.24,118.34 L385.42,118.35 L385.60,118.36 L385.79,118.36 L385.97,118.37 L386.15,118.37 L386.34,118.38 L386.52,118.38 L386.71,118.39 L386.89,118.39 L387.07,118.40 L387.26,118.40 L387.44,118.41 L387.62,118.41 L387.81,118.42 L387.99,118.42 L388.17,118.43 L388.36,118.43 L388.54,118.44 L388.72,118.44 L388.91,118.45 L389.09,118.45 L389.28,118.46 L389.46,118.46 L389.64,118.47 L389.83,118.47 L390.01,118.48 L390.19,118.48 L390.38,118.49 L390.56,118.49 L390.74,118.49 L390.93,118.50 L391.11,118.50 L391.29,118.51 L391.48,118.51 L391.66,118.52 L391.85,118.52 L392.03,118.53 L392.21,118.53 L392.40,118.53 L392.58,118.54 L392.76,118.54 L392.95,118.55 L393.13,118.55 L393.31,118.56 L393.50,118.56 L393.68,118.56 L393.87,118.57 L394.05,118.57 L394.23,118.58 L394.42,118.58 L394.60,118.58 L394.78,118.59 L394.97,118.59 L395.15,118.60 L395.33,118.60 L395.52,118.60 L395.70,118.61 L395.88,118.61 L396.07,118.61 L396.25,118.62 L396.44,118.62 L396.62,118.62 L396.80,118.63 L396.99,118.63 L397.17,118.64 L397.35,118.64 L397.54,118.64 L397.72,118.65 L397.90,118.65 L398.09,118.65 L398.27,118.66 L398.45,118.66 L398.64,118.66 L398.82,118.67 L399.00,118.67 L399.19,118.67 L399.37,118.67 L399.56,118.68 L399.74,118.68 L399.92,118.68 L400.11,118.69 L400.29,118.69 L400.47,118.69 L400.66,118.70 L400.84,118.70 L401.02,118.70 L401.21,118.70 L401.39,118.71 L401.57,118.71 L401.76,118.71 L401.94,118.71 L402.13,118.72 L402.31,118.72 L402.49,118.72 L402.68,118.73 L402.86,118.73 L403.04,118.73 L403.23,118.73 L403.41,118.74 L403.59,118.74 L403.78,118.74 L403.96,118.74 L404.14,118.74 L404.33,118.75 L404.51,118.75 L404.70,118.75 L404.88,118.75 L405.06,118.76 L405.25,118.76 L405.43,118.76 L405.61,118.76 L405.80,118.76 L405.98,118.77 L406.16,118.77 L406.35,118.77 L406.53,118.77 L406.71,118.77 L406.90,118.78 L407.08,118.78 L407.27,118.78 L407.45,118.78 L407.63,118.78 L407.82,118.79 L408.00,118.79" fill="none" stroke="#3a3c8c" stroke-width="1.3" stroke-linejoin="round"/>
<path d="M305.20,118.72 L305.38,118.70 L305.57,118.66 L305.75,118.61 L305.93,118.55 L306.12,118.47 L306.30,118.37 L306.49,118.24 L306.67,118.08 L306.85,117.88 L307.04,117.62 L307.22,117.31 L307.40,116.93 L307.59,116.47 L307.77,115.92 L307.95,115.26 L308.14,114.48 L308.32,113.58 L308.50,112.53 L308.69,111.33 L308.87,109.97 L309.06,108.45 L309.24,106.75 L309.42,104.89 L309.61,102.87 L309.79,100.69 L309.97,98.38 L310.16,95.96 L310.34,93.46 L310.52,90.90 L310.60,89.87 L310.71,88.32 L310.89,85.77 L311.07,83.29 L311.26,80.92 L311.44,78.72 L311.62,76.73 L311.75,75.48 L311.81,74.98 L311.99,73.52 L312.14,72.59 L312.18,72.39 L312.36,71.60 L312.40,71.49 L312.52,71.21 L312.54,71.18 L312.65,71.11 L312.73,71.14 L312.91,71.48 L313.09,72.18 L313.28,73.23 L313.46,74.62 L313.64,76.30 L313.83,78.24 L314.01,80.39 L314.19,82.72 L314.38,85.17 L314.56,87.70 L314.75,90.26 L314.84,91.54 L314.93,92.82 L315.09,95.08 L315.11,95.33 L315.30,97.76 L315.48,100.08 L315.66,102.27 L315.85,104.31 L316.03,106.20 L316.21,107.91 L316.40,109.46 L316.58,110.84 L316.76,112.06 L316.95,113.12 L317.13,114.04 L317.32,114.82 L317.50,115.47 L317.68,116.00 L317.87,116.42 L318.05,116.73 L318.23,116.94 L318.42,117.05 L318.60,117.06 L318.78,116.96 L318.97,116.77 L319.15,116.49 L319.33,116.13 L319.52,115.72 L319.70,115.28 L319.89,114.86 L320.07,114.47 L320.25,114.17 L320.44,113.97 L320.62,113.90 L320.80,113.97 L320.99,114.17 L321.17,114.48 L321.35,114.88 L321.54,115.33 L321.72,115.79 L321.90,116.25 L322.09,116.67 L322.27,117.04 L322.46,117.34 L322.64,117.59 L322.82,117.78 L323.01,117.91 L323.19,118.01 L323.37,118.07 L323.56,118.11 L323.74,118.13 L323.92,118.13 L324.11,118.14 L324.29,118.13 L324.47,118.13 L324.66,118.12 L324.84,118.11 L325.03,118.10 L325.21,118.09 L325.39,118.08 L325.58,118.07 L325.76,118.06 L325.94,118.05 L326.13,118.04 L326.31,118.03 L326.49,118.02 L326.68,118.01 L326.86,117.99 L327.04,117.98 L327.23,117.97 L327.41,117.96 L327.60,117.95 L327.78,117.94 L327.96,117.93 L328.15,117.92 L328.33,117.91 L328.51,117.90 L328.70,117.89 L328.88,117.88 L329.06,117.87 L329.25,117.85 L329.43,117.84 L329.62,117.83 L329.80,117.82 L329.98,117.81 L330.17,117.80 L330.35,117.79 L330.53,117.78 L330.72,117.77 L330.90,117.76 L331.08,117.75 L331.27,117.73 L331.45,117.72 L331.63,117.71 L331.82,117.70 L332.00,117.69 L332.19,117.68 L332.37,117.67 L332.55,117.66 L332.74,117.65 L332.92,117.64 L333.10,117.63 L333.29,117.62 L333.47,117.61 L333.65,117.60 L333.84,117.59 L334.02,117.58 L334.20,117.57 L334.39,117.56 L334.57,117.55 L334.75,117.54 L334.94,117.53 L335.12,117.52 L335.31,117.51 L335.49,117.50 L335.67,117.49 L335.86,117.48 L336.04,117.47 L336.22,117.46 L336.41,117.45 L336.59,117.44 L336.77,117.43 L336.96,117.42 L337.14,117.41 L337.32,117.41 L337.51,117.40 L337.69,117.39 L337.88,117.38 L338.06,117.37 L338.24,117.36 L338.43,117.35 L338.61,117.35 L338.79,117.34 L338.98,117.33 L339.16,117.32 L339.34,117.32 L339.53,117.31 L339.71,117.30 L339.89,117.29 L340.08,117.29 L340.26,117.28 L340.45,117.27 L340.63,117.27 L340.81,117.26 L341.00,117.25 L341.18,117.25 L341.36,117.24 L341.55,117.24 L341.73,117.23 L341.91,117.23 L342.10,117.22 L342.28,117.22 L342.46,117.21 L342.65,117.21 L342.83,117.20 L343.02,117.20 L343.20,117.19 L343.38,117.19 L343.57,117.18 L343.75,117.18 L343.93,117.18 L344.12,117.17 L344.30,117.17 L344.48,117.17 L344.67,117.16 L344.85,117.16 L345.03,117.16 L345.22,117.16 L345.40,117.15 L345.59,117.15 L345.77,117.15 L345.95,117.15 L346.14,117.15 L346.32,117.14 L346.50,117.14 L346.69,117.14 L346.87,117.14 L347.05,117.14 L347.24,117.14 L347.42,117.14 L347.60,117.14 L347.79,117.14 L347.97,117.14 L348.16,117.14 L348.34,117.14 L348.52,117.14 L348.71,117.14 L348.89,117.14 L349.07,117.15 L349.26,117.15 L349.44,117.15 L349.62,117.15 L349.81,117.15 L349.99,117.16 L350.18,117.16 L350.36,117.16 L350.54,117.16 L350.73,117.17 L350.91,117.17 L351.09,117.17 L351.28,117.18 L351.46,117.18 L351.64,117.18 L351.83,117.19 L352.01,117.19 L352.19,117.20 L352.38,117.20 L352.56,117.21 L352.75,117.21 L352.93,117.22 L353.11,117.22 L353.30,117.23 L353.48,117.23 L353.66,117.24 L353.85,117.24 L354.03,117.25 L354.21,117.25 L354.40,117.26 L354.58,117.27 L354.76,117.27 L354.95,117.28 L355.13,117.29 L355.31,117.29 L355.50,117.30 L355.68,117.31 L355.87,117.32 L356.05,117.32 L356.23,117.33 L356.42,117.34 L356.60,117.35 L356.78,117.35 L356.97,117.36 L357.15,117.37 L357.33,117.38 L357.52,117.39 L357.70,117.40 L357.88,117.41 L358.07,117.41 L358.25,117.42 L358.44,117.43 L358.62,117.44 L358.80,117.45 L358.99,117.46 L359.17,117.47 L359.35,117.48 L359.54,117.49 L359.72,117.50 L359.90,117.51 L360.09,117.52 L360.27,117.53 L360.45,117.54 L360.64,117.55 L360.82,117.56 L361.01,117.57 L361.19,117.58 L361.37,117.59 L361.56,117.60 L361.74,117.61 L361.92,117.62 L362.11,117.63 L362.29,117.64 L362.47,117.65 L362.66,117.66 L362.84,117.67 L363.02,117.68 L363.21,117.69 L363.39,117.70 L363.58,117.71 L363.76,117.72 L363.94,117.73 L364.13,117.75 L364.31,117.76 L364.49,117.77 L364.68,117.78 L364.86,117.79 L365.04,117.80 L365.23,117.81 L365.41,117.82 L365.59,117.83 L365.78,117.84 L365.96,117.85 L366.15,117.87 L366.33,117.88 L366.51,117.89 L366.70,117.90 L366.88,117.91 L367.06,117.92 L367.25,117.93 L367.43,117.94 L367.61,117.95 L367.80,117.96 L367.98,117.97 L368.16,117.98 L368.35,117.99 L368.53,118.01 L368.72,118.02 L368.90,118.03 L369.08,118.04 L369.27,118.05 L369.45,118.06 L369.63,118.07 L369.82,118.08 L370.00,118.09 L370.18,118.10 L370.37,118.11 L370.55,118.12 L370.74,118.13 L370.92,118.14 L371.10,118.15 L371.29,118.16 L371.47,118.17 L371.65,118.18 L371.84,118.19 L372.02,118.20 L372.20,118.21 L372.39,118.22 L372.57,118.23 L372.75,118.24 L372.94,118.25 L373.12,118.26 L373.30,118.27 L373.49,118.27 L373.67,118.28 L373.86,118.29 L374.04,118.30 L374.22,118.31 L374.41,118.32 L374.59,118.33 L374.77,118.34 L374.96,118.35 L375.14,118.35 L375.32,118.36 L375.51,118.37 L375.69,118.38 L375.88,118.39 L376.06,118.40 L376.24,118.40 L376.43,118.41 L376.61,118.42 L376.79,118.43 L376.98,118.44 L377.16,118.44 L377.34,118.45 L377.53,118.46 L377.71,118.47 L377.89,118.47 L378.08,118.48 L378.26,118.49 L378.44,118.50 L378.63,118.50 L378.81,118.51 L379.00,118.52 L379.18,118.52 L379.36,118.53 L379.55,118.54 L379.73,118.54 L379.91,118.55 L380.10,118.56 L380.28,118.56 L380.46,118.57 L380.65,118.57 L380.83,118.58 L381.01,118.59 L381.20,118.59 L381.38,118.60 L381.57,118.60 L381.75,118.61 L381.93,118.61 L382.12,118.62 L382.30,118.63 L382.48,118.63 L382.67,118.64 L382.85,118.64 L383.03,118.65 L383.22,118.65 L383.40,118.66 L383.58,118.66 L383.77,118.67 L383.95,118.67 L384.14,118.68 L384.32,118.68 L384.50,118.69 L384.69,118.69 L384.87,118.69 L385.05,118.70 L385.24,118.70 L385.42,118.71 L385.60,118.71 L385.79,118.71 L385.97,118.72 L386.15,118.72 L386.34,118.73 L386.52,118.73 L386.71,118.73 L386.89,118.74 L387.07,118.74 L387.26,118.74 L387.44,118.75 L387.62,118.75 L387.81,118.76 L387.99,118.76 L388.17,118.76 L388.36,118.76 L388.54,118.77 L388.72,118.77 L388.91,118.77 L389.09,118.78 L389.28,118.78 L389.46,118.78 L389.64,118.79 L389.83,118.79 L390.01,118.79 L390.19,118.79 L390.38,118.80 L390.56,118.80 L390.74,118.80 L390.93,118.80 L391.11,118.81 L391.29,118.81 L391.48,118.81 L391.66,118.81 L391.85,118.81 L392.03,118.82 L392.21,118.82 L392.40,118.82 L392.58,118.82 L392.76,118.82 L392.95,118.83 L393.13,118.83 L393.31,118.83 L393.50,118.83 L393.68,118.83 L393.87,118.84 L394.05,118.84 L394.23,118.84 L394.42,118.84 L394.60,118.84 L394.78,118.84 L394.97,118.84 L395.15,118.85 L395.33,118.85 L395.52,118.85 L395.70,118.85 L395.88,118.85 L396.07,118.85 L396.25,118.85 L396.44,118.86 L396.62,118.86 L396.80,118.86 L396.99,118.86 L397.17,118.86 L397.35,118.86 L397.54,118.86 L397.72,118.86 L397.90,118.86 L398.09,118.87 L398.27,118.87 L398.45,118.87 L398.64,118.87 L398.82,118.87 L399.00,118.87 L399.19,118.87 L399.37,118.87 L399.56,118.87 L399.74,118.87 L399.92,118.87 L400.11,118.88 L400.29,118.88 L400.47,118.88 L400.66,118.88 L400.84,118.88 L401.02,118.88 L401.21,118.88 L401.39,118.88 L401.57,118.88 L401.76,118.88 L401.94,118.88 L402.13,118.88 L402.31,118.88 L402.49,118.88 L402.68,118.88 L402.86,118.88 L403.04,118.88 L403.23,118.89 L403.41,118.89 L403.59,118.89 L403.78,118.89 L403.96,118.89 L404.14,118.89 L404.33,118.89 L404.51,118.89 L404.70,118.89 L404.88,118.89 L405.06,118.89 L405.25,118.89 L405.43,118.89 L405.61,118.89 L405.80,118.89 L405.98,118.89 L406.16,118.89 L406.35,118.89 L406.53,118.89 L406.71,118.89 L406.90,118.89 L407.08,118.89 L407.27,118.89 L407.45,118.89 L407.63,118.89 L407.82,118.89 L408.00,118.89" fill="none" stroke="#1a1a1a" stroke-width="1.4" stroke-linejoin="round" stroke-dasharray="1.6,1.3"/>
<line x1="305.20" y1="13.30" x2="305.20" y2="119.40" stroke="#222" stroke-width="1.1"/>
<line x1="302.40" y1="118.90" x2="305.20" y2="118.90" stroke="#222" stroke-width="1"/>
<text x="301.00" y="121.40" font-size="7.2" text-anchor="end" fill="#333"  stroke="#333" stroke-width="0.25">0</text>
<line x1="302.40" y1="101.30" x2="305.20" y2="101.30" stroke="#222" stroke-width="1"/>
<text x="301.00" y="103.80" font-size="7.2" text-anchor="end" fill="#333"  stroke="#333" stroke-width="0.25">1</text>
<line x1="302.40" y1="83.70" x2="305.20" y2="83.70" stroke="#222" stroke-width="1"/>
<text x="301.00" y="86.20" font-size="7.2" text-anchor="end" fill="#333"  stroke="#333" stroke-width="0.25">2</text>
<line x1="302.40" y1="66.10" x2="305.20" y2="66.10" stroke="#222" stroke-width="1"/>
<text x="301.00" y="68.60" font-size="7.2" text-anchor="end" fill="#333"  stroke="#333" stroke-width="0.25">3</text>
<line x1="302.40" y1="48.50" x2="305.20" y2="48.50" stroke="#222" stroke-width="1"/>
<text x="301.00" y="51.00" font-size="7.2" text-anchor="end" fill="#333"  stroke="#333" stroke-width="0.25">4</text>
<line x1="302.40" y1="30.90" x2="305.20" y2="30.90" stroke="#222" stroke-width="1"/>
<text x="301.00" y="33.40" font-size="7.2" text-anchor="end" fill="#333"  stroke="#333" stroke-width="0.25">5</text>
<line x1="302.40" y1="13.30" x2="305.20" y2="13.30" stroke="#222" stroke-width="1"/>
<text x="301.00" y="15.80" font-size="7.2" text-anchor="end" fill="#333"  stroke="#333" stroke-width="0.25">6</text>
<line x1="304.70" y1="118.70" x2="408.50" y2="118.70" stroke="#1c1c38" stroke-width="1.8"/>
<line x1="305.20" y1="118.90" x2="305.20" y2="121.70" stroke="#222" stroke-width="1"/>
<text x="305.20" y="128.10" font-size="7.2" text-anchor="middle" fill="#333"  stroke="#333" stroke-width="0.25">0</text>
<line x1="330.90" y1="118.90" x2="330.90" y2="121.70" stroke="#222" stroke-width="1"/>
<text x="330.90" y="128.10" font-size="7.2" text-anchor="middle" fill="#333"  stroke="#333" stroke-width="0.25">2</text>
<line x1="356.60" y1="118.90" x2="356.60" y2="121.70" stroke="#222" stroke-width="1"/>
<text x="356.60" y="128.10" font-size="7.2" text-anchor="middle" fill="#333"  stroke="#333" stroke-width="0.25">4</text>
<line x1="382.30" y1="118.90" x2="382.30" y2="121.70" stroke="#222" stroke-width="1"/>
<text x="382.30" y="128.10" font-size="7.2" text-anchor="middle" fill="#333"  stroke="#333" stroke-width="0.25">6</text>
<line x1="408.00" y1="118.90" x2="408.00" y2="121.70" stroke="#222" stroke-width="1"/>
<text x="408.00" y="128.10" font-size="7.2" text-anchor="middle" fill="#333"  stroke="#333" stroke-width="0.25">8</text>
<text x="358.00" y="138.00" font-size="9.4" text-anchor="middle" fill="#1a1a1a"  stroke="#1a1a1a" stroke-width="0.25">Normalized redox</text>
<text x="358.00" y="148.60" font-size="9.4" text-anchor="middle" fill="#1a1a1a"  stroke="#1a1a1a" stroke-width="0.25">ratio [NAD(P)H/FAD]</text>
<text transform="translate(292.30,65.6) rotate(-90)" font-size="9.5" text-anchor="middle" fill="#1a1a1a" stroke="#1a1a1a" stroke-width="0.28">Normalized cell number</text>
<text y="41.00" font-size="7.0" font-weight="bold" fill="#262626"><tspan x="50.00">p</tspan><tspan font-size="4.2" dy="2.0">1</tspan><tspan x="56.20" dy="-2.5" font-size="5.6">=</tspan><tspan x="62.70" dy="0.5">90.3%</tspan></text>
<text y="49.20" font-size="7.0" font-weight="bold" fill="#b45a66"><tspan x="50.00">p</tspan><tspan font-size="4.2" dy="2.0">1</tspan><tspan x="56.20" dy="-2.5" font-size="5.6">=</tspan><tspan x="62.70" dy="0.5">81.3%</tspan></text>
<text y="57.40" font-size="7.0" font-weight="bold" fill="#58628e"><tspan x="50.00">p</tspan><tspan font-size="4.2" dy="2.0">1</tspan><tspan x="56.20" dy="-2.5" font-size="5.6">=</tspan><tspan x="62.70" dy="0.5">95.3%</tspan></text>
<text y="96.90" font-size="7.0" font-weight="bold" fill="#262626"><tspan x="84.60">p</tspan><tspan font-size="4.2" dy="2.0">2</tspan><tspan x="92.70" dy="-2.5" font-size="5.6">=</tspan><tspan x="98.80" dy="0.5">9.7%</tspan></text>
<text y="104.90" font-size="7.0" font-weight="bold" fill="#b45a66"><tspan x="84.60">p</tspan><tspan font-size="4.2" dy="2.0">2</tspan><tspan x="92.70" dy="-2.5" font-size="5.6">=</tspan><tspan x="98.80" dy="0.5">18.7%</tspan></text>
<text y="112.90" font-size="7.0" font-weight="bold" fill="#58628e"><tspan x="84.60">p</tspan><tspan font-size="4.2" dy="2.0">2</tspan><tspan x="92.70" dy="-2.5" font-size="5.6">=</tspan><tspan x="98.80" dy="0.5">4.7%</tspan></text>
<text y="58.30" font-size="7.0" font-weight="bold" fill="#262626"><tspan x="186.20">p</tspan><tspan font-size="4.2" dy="2.0">1</tspan><tspan x="192.40" dy="-2.5" font-size="5.6">=</tspan><tspan x="198.90" dy="0.5">75.7%</tspan></text>
<text y="66.40" font-size="7.0" font-weight="bold" fill="#b45a66"><tspan x="186.20">p</tspan><tspan font-size="4.2" dy="2.0">1</tspan><tspan x="192.40" dy="-2.5" font-size="5.6">=</tspan><tspan x="198.90" dy="0.5">61.8%</tspan></text>
<text y="74.50" font-size="7.0" font-weight="bold" fill="#58628e"><tspan x="186.20">p</tspan><tspan font-size="4.2" dy="2.0">1</tspan><tspan x="192.40" dy="-2.5" font-size="5.6">=</tspan><tspan x="198.90" dy="0.5">82.9%</tspan></text>
<text y="93.70" font-size="7.0" font-weight="bold" fill="#262626"><tspan x="227.60">p</tspan><tspan font-size="4.2" dy="2.0">2</tspan><tspan x="235.70" dy="-2.5" font-size="5.6">=</tspan><tspan x="241.80" dy="0.5">24.3%</tspan></text>
<text y="102.20" font-size="7.0" font-weight="bold" fill="#b45a66"><tspan x="227.60">p</tspan><tspan font-size="4.2" dy="2.0">2</tspan><tspan x="235.70" dy="-2.5" font-size="5.6">=</tspan><tspan x="241.80" dy="0.5">38.2%</tspan></text>
<text y="110.60" font-size="7.0" font-weight="bold" fill="#58628e"><tspan x="227.60">p</tspan><tspan font-size="4.2" dy="2.0">2</tspan><tspan x="235.70" dy="-2.5" font-size="5.6">=</tspan><tspan x="241.80" dy="0.5">17.1%</tspan></text>
<text y="63.70" font-size="7.0" font-weight="bold" fill="#262626"><tspan x="322.50">p</tspan><tspan font-size="4.2" dy="2.0">1</tspan><tspan x="328.70" dy="-2.5" font-size="5.6">=</tspan><tspan x="335.20" dy="0.5">87.5%</tspan></text>
<text y="71.80" font-size="7.0" font-weight="bold" fill="#b45a66"><tspan x="322.50">p</tspan><tspan font-size="4.2" dy="2.0">1</tspan><tspan x="328.70" dy="-2.5" font-size="5.6">=</tspan><tspan x="335.20" dy="0.5">62.0%</tspan></text>
<text y="79.90" font-size="7.0" font-weight="bold" fill="#58628e"><tspan x="322.50">p</tspan><tspan font-size="4.2" dy="2.0">1</tspan><tspan x="328.70" dy="-2.5" font-size="5.6">=</tspan><tspan x="335.20" dy="0.5">78.6%</tspan></text>
<text y="95.00" font-size="7.0" font-weight="bold" fill="#262626"><tspan x="371.20">p</tspan><tspan font-size="4.2" dy="2.0">2</tspan><tspan x="379.30" dy="-2.5" font-size="5.6">=</tspan><tspan x="385.40" dy="0.5">12.5%</tspan></text>
<text y="103.30" font-size="7.0" font-weight="bold" fill="#b45a66"><tspan x="371.20">p</tspan><tspan font-size="4.2" dy="2.0">2</tspan><tspan x="379.30" dy="-2.5" font-size="5.6">=</tspan><tspan x="385.40" dy="0.5">38.0%</tspan></text>
<text y="111.90" font-size="7.0" font-weight="bold" fill="#58628e"><tspan x="371.20">p</tspan><tspan font-size="4.2" dy="2.0">2</tspan><tspan x="379.30" dy="-2.5" font-size="5.6">=</tspan><tspan x="385.40" dy="0.5">21.4%</tspan></text>
<text x="30.60" y="21.30" font-size="7.5" text-anchor="middle" font-weight="bold" fill="#b45a66">†</text>
<text x="34.60" y="21.30" font-size="7.5" text-anchor="middle" font-weight="bold" fill="#b45a66">†</text>
<text x="40.30" y="21.30" font-size="7.5" text-anchor="middle" font-weight="bold" fill="#2a2a2a">†</text>
<text x="44.40" y="21.30" font-size="7.5" text-anchor="middle" font-weight="bold" fill="#2a2a2a">†</text>
<text x="39.80" y="46.90" font-size="7.5" text-anchor="middle" font-weight="bold" fill="#58628e">†</text>
<text x="43.80" y="46.90" font-size="7.5" text-anchor="middle" font-weight="bold" fill="#58628e">†</text>
<text x="60.00" y="116.50" font-size="8.5" text-anchor="middle" font-weight="bold" fill="#6a2a36">*</text>
<text x="63.90" y="116.50" font-size="8.5" text-anchor="middle" font-weight="bold" fill="#6a2a36">*</text>
<text x="68.50" y="116.50" font-size="8.5" text-anchor="middle" font-weight="bold" fill="#222">*</text>
<text x="72.50" y="116.50" font-size="8.5" text-anchor="middle" font-weight="bold" fill="#222">*</text>
<text x="165.20" y="44.60" font-size="7.5" text-anchor="middle" font-weight="bold" fill="#b45a66">†</text>
<text x="169.00" y="44.60" font-size="7.5" text-anchor="middle" font-weight="bold" fill="#b45a66">†</text>
<text x="173.00" y="44.60" font-size="7.5" text-anchor="middle" font-weight="bold" fill="#b45a66">†</text>
<text x="178.70" y="44.60" font-size="7.5" text-anchor="middle" font-weight="bold" fill="#2a2a2a">†</text>
<text x="199.20" y="111.40" font-size="8.5" text-anchor="middle" font-weight="bold" fill="#6a2a36">*</text>
<text x="203.00" y="111.40" font-size="8.5" text-anchor="middle" font-weight="bold" fill="#6a2a36">*</text>
<text x="207.60" y="111.40" font-size="8.5" text-anchor="middle" font-weight="bold" fill="#222">*</text>
<text x="211.60" y="111.40" font-size="8.5" text-anchor="middle" font-weight="bold" fill="#222">*</text>
<text x="200.70" y="118.40" font-size="8.5" text-anchor="middle" font-weight="bold" fill="#4a4f9a">*</text>
<text x="204.10" y="118.40" font-size="8.5" text-anchor="middle" font-weight="bold" fill="#4a4f9a">*</text>
<text x="309.60" y="49.20" font-size="7.5" text-anchor="middle" font-weight="bold" fill="#b45a66">†</text>
<text x="313.60" y="49.20" font-size="7.5" text-anchor="middle" font-weight="bold" fill="#b45a66">†</text>
<text x="314.40" y="69.80" font-size="7.5" text-anchor="middle" font-weight="bold" fill="#58628e">†</text>
<text x="318.20" y="69.80" font-size="7.5" text-anchor="middle" font-weight="bold" fill="#58628e">†</text>
<text x="349.60" y="115.40" font-size="8.5" text-anchor="middle" font-weight="bold" fill="#6a2a36">*</text>
<text x="353.60" y="115.40" font-size="8.5" text-anchor="middle" font-weight="bold" fill="#6a2a36">*</text>
<text x="357.80" y="115.40" font-size="8.5" text-anchor="middle" font-weight="bold" fill="#222">*</text>
<text x="361.80" y="115.40" font-size="8.5" text-anchor="middle" font-weight="bold" fill="#222">*</text>
<text x="341.40" y="118.00" font-size="8.5" text-anchor="middle" font-weight="bold" fill="#4a4f9a">*</text>
<line x1="207.3" y1="159.2" x2="219" y2="159.2" stroke="#222" stroke-width="1.6" stroke-dasharray="1.6,2.9"/>
<text x="220.20" y="162.20" font-size="9.3" text-anchor="start" fill="#1a1a1a"  stroke="#1a1a1a" stroke-width="0.25">M0</text>
<line x1="239.4" y1="159.0" x2="250.4" y2="159.0" stroke="#c07078" stroke-width="1.5"/>
<text x="252.30" y="162.20" font-size="9.3" text-anchor="start" fill="#1a1a1a"  stroke="#1a1a1a" stroke-width="0.25">M(IFNγ)</text>
<line x1="296.7" y1="159.0" x2="307.3" y2="159.0" stroke="#6a6aa8" stroke-width="1.5"/>
<text x="309.60" y="162.20" font-size="9.3" text-anchor="start" fill="#1a1a1a"  stroke="#1a1a1a" stroke-width="0.25">M(IL4/IL13)</text>
<text x="415.00" y="10.60" font-size="13.2" text-anchor="start" fill="#111" font-weight="bold" stroke="#111" stroke-width="0.5">D</text>
<polyline points="459.80,72.50 485.60,87.50 511.00,53.00" fill="none" stroke="#a83442" stroke-width="1.1"/>
<polyline points="459.80,75.80 485.60,90.20 511.00,111.20" fill="none" stroke="#2a2e86" stroke-width="1.1"/>
<polyline points="459.80,89.00 485.60,90.80 511.00,103.40" fill="none" stroke="#111" stroke-width="1.3" stroke-dasharray="3,2.2"/>
<circle cx="459.80" cy="72.50" r="1.2" fill="#a83442"/>
<circle cx="485.60" cy="87.50" r="1.2" fill="#a83442"/>
<circle cx="511.00" cy="53.00" r="1.2" fill="#a83442"/>
<circle cx="459.80" cy="75.80" r="1.2" fill="#2a2e86"/>
<circle cx="485.60" cy="90.20" r="1.2" fill="#2a2e86"/>
<circle cx="511.00" cy="111.20" r="1.2" fill="#2a2e86"/>
<circle cx="459.80" cy="89.00" r="1.2" fill="#111"/>
<circle cx="485.60" cy="90.80" r="1.2" fill="#111"/>
<circle cx="511.00" cy="103.40" r="1.2" fill="#111"/>
<line x1="459.80" y1="70.70" x2="459.80" y2="74.30" stroke="#444" stroke-width="0.8"/>
<line x1="511.00" y1="50.90" x2="511.00" y2="54.80" stroke="#444" stroke-width="0.8"/>
<line x1="509.80" y1="50.90" x2="512.20" y2="50.90" stroke="#444" stroke-width="0.8"/>
<line x1="447.60" y1="14.30" x2="447.60" y2="119.80" stroke="#222" stroke-width="1.1"/>
<line x1="444.80" y1="119.30" x2="447.60" y2="119.30" stroke="#222" stroke-width="1"/>
<text x="443.80" y="121.90" font-size="7.5" text-anchor="end" fill="#333"  stroke="#333" stroke-width="0.25">0.0</text>
<line x1="444.80" y1="104.30" x2="447.60" y2="104.30" stroke="#222" stroke-width="1"/>
<text x="443.80" y="106.90" font-size="7.5" text-anchor="end" fill="#333"  stroke="#333" stroke-width="0.25">0.5</text>
<line x1="444.80" y1="89.30" x2="447.60" y2="89.30" stroke="#222" stroke-width="1"/>
<text x="443.80" y="91.90" font-size="7.5" text-anchor="end" fill="#333"  stroke="#333" stroke-width="0.25">1.0</text>
<line x1="444.80" y1="74.30" x2="447.60" y2="74.30" stroke="#222" stroke-width="1"/>
<text x="443.80" y="76.90" font-size="7.5" text-anchor="end" fill="#333"  stroke="#333" stroke-width="0.25">1.5</text>
<line x1="444.80" y1="59.30" x2="447.60" y2="59.30" stroke="#222" stroke-width="1"/>
<text x="443.80" y="61.90" font-size="7.5" text-anchor="end" fill="#333"  stroke="#333" stroke-width="0.25">2.0</text>
<line x1="444.80" y1="44.30" x2="447.60" y2="44.30" stroke="#222" stroke-width="1"/>
<text x="443.80" y="46.90" font-size="7.5" text-anchor="end" fill="#333"  stroke="#333" stroke-width="0.25">2.5</text>
<line x1="444.80" y1="29.30" x2="447.60" y2="29.30" stroke="#222" stroke-width="1"/>
<text x="443.80" y="31.90" font-size="7.5" text-anchor="end" fill="#333"  stroke="#333" stroke-width="0.25">3.0</text>
<line x1="444.80" y1="14.30" x2="447.60" y2="14.30" stroke="#222" stroke-width="1"/>
<text x="443.80" y="16.90" font-size="7.5" text-anchor="end" fill="#333"  stroke="#333" stroke-width="0.25">3.5</text>
<line x1="447.10" y1="119.30" x2="520" y2="119.30" stroke="#222" stroke-width="1.2"/>
<line x1="459.80" y1="119.30" x2="459.80" y2="122.10" stroke="#222" stroke-width="1"/>
<text transform="translate(464.40,127.70) rotate(-37)" font-size="9.2" text-anchor="end" fill="#1a1a1a" stroke="#1a1a1a" stroke-width="0.25">24 h</text>
<line x1="485.60" y1="119.30" x2="485.60" y2="122.10" stroke="#222" stroke-width="1"/>
<text transform="translate(490.20,127.70) rotate(-37)" font-size="9.2" text-anchor="end" fill="#1a1a1a" stroke="#1a1a1a" stroke-width="0.25">48 h</text>
<line x1="511.00" y1="119.30" x2="511.00" y2="122.10" stroke="#222" stroke-width="1"/>
<text transform="translate(515.60,127.70) rotate(-37)" font-size="9.2" text-anchor="end" fill="#1a1a1a" stroke="#1a1a1a" stroke-width="0.25">72 h</text>
<text transform="translate(428.4,67.6) rotate(-90)" font-size="9.3" text-anchor="middle" fill="#1a1a1a" stroke="#1a1a1a" stroke-width="0.25">CD86:CD206 ratio</text>
<text transform="translate(451.80,68.50) scale(1,1.1)" font-size="7.0" font-family="Noto Sans CJK JP, Liberation Sans, sans-serif" font-weight="bold" fill="#b8303a" stroke="#b8303a" stroke-width="0.25">###</text>
<text transform="translate(451.80,84.20) scale(1,1.1)" font-size="7.0" font-family="Noto Sans CJK JP, Liberation Sans, sans-serif" font-weight="bold" fill="#3034b0" stroke="#3034b0" stroke-width="0.25">###</text>
<text transform="translate(477.40,82.10) scale(1,1.1)" font-size="7.0" font-family="Noto Sans CJK JP, Liberation Sans, sans-serif" font-weight="bold" fill="#b8303a" stroke="#b8303a" stroke-width="0.25">###</text>
<text transform="translate(498.20,117.00) scale(1,1.1)" font-size="7.0" font-family="Noto Sans CJK JP, Liberation Sans, sans-serif" font-weight="bold" fill="#3034b0" stroke="#3034b0" stroke-width="0.25">###</text>
<text transform="translate(505.00,43.00) scale(1,1.1)" font-size="7.0" font-family="Noto Sans CJK JP, Liberation Sans, sans-serif" font-weight="bold" fill="#b8303a" stroke="#b8303a" stroke-width="0.25">###</text>
<text x="503.00" y="50.70" font-size="6.0" text-anchor="start" fill="#222" font-weight="bold" letter-spacing="0.2" stroke="#222" stroke-width="0.25">^^^^</text>
<text x="0.90" y="185.70" font-size="13.2" text-anchor="start" fill="#111" font-weight="bold" stroke="#111" stroke-width="0.5">E</text>
<line x1="39.60" y1="188.50" x2="39.60" y2="345.00" stroke="#222" stroke-width="1.2"/>
<line x1="36.80" y1="344.50" x2="39.60" y2="344.50" stroke="#222" stroke-width="1"/>
<text x="35.30" y="347.20" font-size="7.6" text-anchor="end" fill="#333"  stroke="#333" stroke-width="0.25">0</text>
<line x1="36.80" y1="292.50" x2="39.60" y2="292.50" stroke="#222" stroke-width="1"/>
<text x="35.30" y="295.20" font-size="7.6" text-anchor="end" fill="#333"  stroke="#333" stroke-width="0.25">2</text>
<line x1="36.80" y1="240.50" x2="39.60" y2="240.50" stroke="#222" stroke-width="1"/>
<text x="35.30" y="243.20" font-size="7.6" text-anchor="end" fill="#333"  stroke="#333" stroke-width="0.25">4</text>
<line x1="36.80" y1="188.50" x2="39.60" y2="188.50" stroke="#222" stroke-width="1"/>
<text x="35.30" y="191.20" font-size="7.6" text-anchor="end" fill="#333"  stroke="#333" stroke-width="0.25">6</text>
<line x1="39.10" y1="344.50" x2="274.70" y2="344.50" stroke="#222" stroke-width="1.2"/>
<line x1="39.60" y1="344.50" x2="39.60" y2="347.30" stroke="#222" stroke-width="1"/>
<text x="38.00" y="354.90" font-size="7.4" text-anchor="middle" fill="#333"  stroke="#333" stroke-width="0.25">-1</text>
<line x1="98.25" y1="344.50" x2="98.25" y2="347.30" stroke="#222" stroke-width="1"/>
<text x="98.25" y="354.90" font-size="7.4" text-anchor="middle" fill="#333"  stroke="#333" stroke-width="0.25">0</text>
<line x1="156.90" y1="344.50" x2="156.90" y2="347.30" stroke="#222" stroke-width="1"/>
<text x="156.90" y="354.90" font-size="7.4" text-anchor="middle" fill="#333"  stroke="#333" stroke-width="0.25">1</text>
<line x1="215.55" y1="344.50" x2="215.55" y2="347.30" stroke="#222" stroke-width="1"/>
<text x="215.55" y="354.90" font-size="7.4" text-anchor="middle" fill="#333"  stroke="#333" stroke-width="0.25">2</text>
<line x1="274.20" y1="344.50" x2="274.20" y2="347.30" stroke="#222" stroke-width="1"/>
<text x="274.20" y="354.90" font-size="7.4" text-anchor="middle" fill="#333"  stroke="#333" stroke-width="0.25">3</text>
<text transform="translate(22.90,267) rotate(-90)" font-size="9.3" text-anchor="middle" fill="#1a1a1a" stroke="#1a1a1a" stroke-width="0.25">−Log<tspan font-size="4.6" dy="3.3" stroke-width="0.15">10</tspan><tspan dy="-3.3">(</tspan><tspan font-style="italic">P</tspan>)</text>
<text x="85.40" y="366.00" font-size="9.5" text-anchor="start" fill="#1a1a1a"  stroke="#1a1a1a" stroke-width="0.25">Log<tspan font-size="5.0" dy="3.4" stroke-width="0.15">2</tspan><tspan dy="-3.4">[fold change M(IFNγ) to M0]</tspan></text>
<rect x="50.20" y="184.3" width="10" height="9.5" fill="#ee6168"/>
<text x="62.80" y="192.60" font-size="9.5" text-anchor="start" fill="#1a1a1a"  stroke="#1a1a1a" stroke-width="0.25">24 h</text>
<rect x="92.90" y="184.3" width="10" height="9.5" fill="#b3222d"/>
<text x="105.50" y="192.60" font-size="9.5" text-anchor="start" fill="#1a1a1a"  stroke="#1a1a1a" stroke-width="0.25">48 h</text>
<rect x="135.40" y="184.3" width="10" height="9.5" fill="#4a0810"/>
<text x="148.00" y="192.60" font-size="9.5" text-anchor="start" fill="#1a1a1a"  stroke="#1a1a1a" stroke-width="0.25">72 h</text>
<text x="294.60" y="185.70" font-size="13.2" text-anchor="start" fill="#111" font-weight="bold" stroke="#111" stroke-width="0.5">F</text>
<line x1="327.30" y1="188.50" x2="327.30" y2="345.00" stroke="#222" stroke-width="1.2"/>
<line x1="324.50" y1="344.50" x2="327.30" y2="344.50" stroke="#222" stroke-width="1"/>
<text x="323.00" y="347.20" font-size="7.6" text-anchor="end" fill="#333"  stroke="#333" stroke-width="0.25">0</text>
<line x1="324.50" y1="292.50" x2="327.30" y2="292.50" stroke="#222" stroke-width="1"/>
<text x="323.00" y="295.20" font-size="7.6" text-anchor="end" fill="#333"  stroke="#333" stroke-width="0.25">2</text>
<line x1="324.50" y1="240.50" x2="327.30" y2="240.50" stroke="#222" stroke-width="1"/>
<text x="323.00" y="243.20" font-size="7.6" text-anchor="end" fill="#333"  stroke="#333" stroke-width="0.25">4</text>
<line x1="324.50" y1="188.50" x2="327.30" y2="188.50" stroke="#222" stroke-width="1"/>
<text x="323.00" y="191.20" font-size="7.6" text-anchor="end" fill="#333"  stroke="#333" stroke-width="0.25">6</text>
<line x1="326.80" y1="344.50" x2="503.90" y2="344.50" stroke="#222" stroke-width="1.2"/>
<line x1="327.30" y1="344.50" x2="327.30" y2="347.30" stroke="#222" stroke-width="1"/>
<text x="325.70" y="354.90" font-size="7.4" text-anchor="middle" fill="#333"  stroke="#333" stroke-width="0.25">-1</text>
<line x1="386.00" y1="344.50" x2="386.00" y2="347.30" stroke="#222" stroke-width="1"/>
<text x="386.00" y="354.90" font-size="7.4" text-anchor="middle" fill="#333"  stroke="#333" stroke-width="0.25">0</text>
<line x1="444.70" y1="344.50" x2="444.70" y2="347.30" stroke="#222" stroke-width="1"/>
<text x="444.70" y="354.90" font-size="7.4" text-anchor="middle" fill="#333"  stroke="#333" stroke-width="0.25">1</text>
<line x1="503.40" y1="344.50" x2="503.40" y2="347.30" stroke="#222" stroke-width="1"/>
<text x="503.40" y="354.90" font-size="7.4" text-anchor="middle" fill="#333"  stroke="#333" stroke-width="0.25">2</text>
<text transform="translate(310.60,267) rotate(-90)" font-size="9.3" text-anchor="middle" fill="#1a1a1a" stroke="#1a1a1a" stroke-width="0.25">−Log<tspan font-size="4.6" dy="3.3" stroke-width="0.15">10</tspan><tspan dy="-3.3">(</tspan><tspan font-style="italic">P</tspan>)</text>
<text x="340.00" y="366.00" font-size="9.5" text-anchor="start" fill="#1a1a1a"  stroke="#1a1a1a" stroke-width="0.25">Log<tspan font-size="5.0" dy="3.4" stroke-width="0.15">2</tspan><tspan dy="-3.4">[fold change M(IL4/IL13) to M0]</tspan></text>
<rect x="338.60" y="184.3" width="10" height="9.5" fill="#6868ee"/>
<text x="351.20" y="192.60" font-size="9.5" text-anchor="start" fill="#1a1a1a"  stroke="#1a1a1a" stroke-width="0.25">24 h</text>
<rect x="380.80" y="184.3" width="10" height="9.5" fill="#2a2ab4"/>
<text x="393.40" y="192.60" font-size="9.5" text-anchor="start" fill="#1a1a1a"  stroke="#1a1a1a" stroke-width="0.25">48 h</text>
<rect x="423.80" y="184.3" width="10" height="9.5" fill="#0e0e52"/>
<text x="436.40" y="192.60" font-size="9.5" text-anchor="start" fill="#1a1a1a"  stroke="#1a1a1a" stroke-width="0.25">72 h</text>
<line x1="97.90" y1="206.20" x2="97.90" y2="344.00" stroke="#8c8c8c" stroke-width="1.6" stroke-dasharray="1.5,3.2"/>
<line x1="43.00" y1="310.60" x2="274.50" y2="310.60" stroke="#8c8c8c" stroke-width="1.5" stroke-dasharray="1.5,3.2"/>
<line x1="386.20" y1="206.20" x2="386.20" y2="344.00" stroke="#8a8e9e" stroke-width="1.6" stroke-dasharray="1.5,3.2"/>
<line x1="330.60" y1="310.40" x2="503.00" y2="310.40" stroke="#8a8e9e" stroke-width="1.5" stroke-dasharray="1.5,3.2"/>
<polyline points="46.90,249.30 203.20,196.20 183.00,247.20" fill="none" stroke="#e8e8e8" stroke-width="1"/>
<polyline points="170.50,203.80 64.20,299.50 213.10,272.70" fill="none" stroke="#e8e8e8" stroke-width="1"/>
<polyline points="231.30,199.90 153.50,269.00" fill="none" stroke="#e8e8e8" stroke-width="1"/>
<polyline points="180.10,243.00 239.50,271.60" fill="none" stroke="#e8e8e8" stroke-width="1"/>
<polyline points="108.20,270.20 120.10,264.80" fill="none" stroke="#e8e8e8" stroke-width="1"/>
<polyline points="160.60,265.30 173.00,252.30" fill="none" stroke="#e8e8e8" stroke-width="1"/>
<circle cx="78.70" cy="313.70" r="3.2" fill="#4a0810"/>
<circle cx="104.70" cy="317.80" r="3.2" fill="#b3222d"/>
<circle cx="122.70" cy="310.60" r="3.2" fill="#b3222d"/>
<circle cx="122.70" cy="317.20" r="3.2" fill="#ee6168"/>
<circle cx="111.60" cy="324.20" r="3.2" fill="#ee6168"/>
<circle cx="113.10" cy="322.20" r="3.2" fill="#4a0810"/>
<circle cx="117.10" cy="325.00" r="3.2" fill="#ee6168"/>
<circle cx="83.70" cy="326.50" r="3.2" fill="#b3222d"/>
<circle cx="86.60" cy="331.50" r="3.2" fill="#4a0810"/>
<circle cx="91.30" cy="332.90" r="3.2" fill="#b3222d"/>
<circle cx="93.60" cy="336.40" r="3.2" fill="#b3222d"/>
<circle cx="94.20" cy="339.30" r="3.2" fill="#b3222d"/>
<circle cx="95.30" cy="342.00" r="3.2" fill="#4a0810"/>
<circle cx="97.70" cy="343.40" r="3.2" fill="#4a0810"/>
<circle cx="100.00" cy="342.20" r="3.2" fill="#4a0810"/>
<circle cx="101.70" cy="340.50" r="3.2" fill="#4a0810"/>
<circle cx="102.90" cy="334.70" r="3.2" fill="#b3222d"/>
<circle cx="104.70" cy="337.60" r="3.2" fill="#ee6168"/>
<circle cx="122.70" cy="334.70" r="3.2" fill="#ee6168"/>
<circle cx="64.00" cy="299.80" r="3.2" fill="#b3222d"/>
<circle cx="46.90" cy="249.30" r="3.2" fill="#4a0810"/>
<circle cx="170.50" cy="203.80" r="3.2" fill="#4a0810"/>
<circle cx="180.10" cy="243.00" r="3.2" fill="#4a0810"/>
<circle cx="139.30" cy="261.20" r="3.2" fill="#4a0810"/>
<circle cx="160.60" cy="265.30" r="3.2" fill="#4a0810"/>
<circle cx="108.20" cy="270.20" r="3.2" fill="#4a0810"/>
<circle cx="108.00" cy="295.50" r="3.2" fill="#4a0810"/>
<circle cx="155.20" cy="305.80" r="3.2" fill="#4a0810"/>
<circle cx="64.20" cy="299.50" r="3.2" fill="#4a0810"/>
<circle cx="203.20" cy="196.20" r="3.2" fill="#b3222d"/>
<circle cx="153.50" cy="269.00" r="3.2" fill="#b3222d"/>
<circle cx="122.80" cy="286.40" r="3.2" fill="#b3222d"/>
<circle cx="148.00" cy="287.40" r="3.2" fill="#b3222d"/>
<circle cx="74.00" cy="293.60" r="3.2" fill="#b3222d"/>
<circle cx="231.30" cy="199.90" r="3.2" fill="#ee6168"/>
<circle cx="239.50" cy="271.60" r="3.2" fill="#ee6168"/>
<circle cx="213.10" cy="272.70" r="3.2" fill="#ee6168"/>
<circle cx="183.00" cy="247.20" r="3.2" fill="#ee6168"/>
<circle cx="173.00" cy="252.30" r="3.2" fill="#ee6168"/>
<circle cx="120.10" cy="264.80" r="3.2" fill="#ee6168"/>
<circle cx="130.30" cy="300.50" r="3.2" fill="#ee6168"/>
<circle cx="135.80" cy="297.20" r="3.2" fill="#ee6168"/>
<text x="50.50" y="256.70" font-size="7.25" text-anchor="start" fill="#222" font-style="italic" stroke="#222" stroke-width="0.22">Ptgs2</text>
<text x="171.00" y="215.30" font-size="7.25" text-anchor="middle" fill="#222" font-style="italic" stroke="#222" stroke-width="0.22">Il6</text>
<text x="180.00" y="239.40" font-size="7.25" text-anchor="middle" fill="#222" font-style="italic" stroke="#222" stroke-width="0.22">Nos2</text>
<text x="139.20" y="256.70" font-size="7.25" text-anchor="middle" fill="#222" font-style="italic" stroke="#222" stroke-width="0.22">Ccl2</text>
<text x="165.00" y="269.50" font-size="7.25" text-anchor="start" fill="#222" font-style="italic" stroke="#222" stroke-width="0.22">Il12b</text>
<text x="106.20" y="267.20" font-size="7.25" text-anchor="end" fill="#222" font-style="italic" stroke="#222" stroke-width="0.22">Stat3</text>
<text x="105.40" y="292.90" font-size="7.25" text-anchor="end" fill="#222" font-style="italic" stroke="#222" stroke-width="0.22">Ccl22</text>
<text x="158.90" y="306.50" font-size="7.25" text-anchor="start" fill="#222" font-style="italic" stroke="#222" stroke-width="0.22">Ccl5</text>
<text x="61.80" y="308.30" font-size="7.25" text-anchor="end" fill="#222" font-style="italic" stroke="#222" stroke-width="0.22">Il6</text>
<text x="68.10" y="304.60" font-size="7.25" text-anchor="start" fill="#222" font-style="italic" stroke="#222" stroke-width="0.22">Il10</text>
<text x="203.20" y="205.60" font-size="7.25" text-anchor="middle" fill="#222" font-style="italic" stroke="#222" stroke-width="0.22">Ptgs2</text>
<text x="149.80" y="274.50" font-size="7.25" text-anchor="end" fill="#222" stroke="#222" stroke-width="0.22">Ccl5</text>
<text x="121.00" y="284.10" font-size="7.25" text-anchor="end" fill="#222" font-style="italic" stroke="#222" stroke-width="0.22">Ccl22</text>
<text x="151.50" y="287.00" font-size="7.25" text-anchor="start" fill="#222" font-style="italic" stroke="#222" stroke-width="0.22">Ccl2</text>
<text x="74.30" y="289.70" font-size="7.25" text-anchor="middle" fill="#222" font-style="italic" stroke="#222" stroke-width="0.22">Il10</text>
<text x="231.40" y="209.90" font-size="7.25" text-anchor="middle" fill="#222" font-style="italic" stroke="#222" stroke-width="0.22">Ccl5</text>
<text x="240.10" y="281.00" font-size="7.25" text-anchor="middle" fill="#222" font-style="italic" stroke="#222" stroke-width="0.22">Nos2</text>
<text x="213.50" y="283.20" font-size="7.25" text-anchor="middle" fill="#222" font-style="italic" stroke="#222" stroke-width="0.22">Il6</text>
<text x="185.40" y="255.40" font-size="7.25" text-anchor="start" fill="#222" font-style="italic" stroke="#222" stroke-width="0.22">Ptgs2</text>
<text x="170.40" y="250.40" font-size="7.25" text-anchor="end" fill="#222" font-style="italic" stroke="#222" stroke-width="0.22">Il12b</text>
<text x="120.10" y="260.90" font-size="7.25" text-anchor="middle" fill="#222" font-style="italic" stroke="#222" stroke-width="0.22">Stat3</text>
<text x="127.00" y="301.40" font-size="7.25" text-anchor="end" fill="#222" font-style="italic" stroke="#222" stroke-width="0.22">Tnf</text>
<text x="139.60" y="300.00" font-size="7.25" text-anchor="start" fill="#222" font-style="italic" stroke="#222" stroke-width="0.22">Ccl22</text>
<polyline points="461.70,274.60 480.50,257.70" fill="none" stroke="#e8e8e8" stroke-width="1"/>
<circle cx="411.90" cy="316.60" r="3.2" fill="#2a2ab4"/>
<circle cx="373.40" cy="313.10" r="3.2" fill="#2a2ab4"/>
<circle cx="372.20" cy="317.20" r="3.2" fill="#2a2ab4"/>
<circle cx="379.80" cy="320.10" r="3.2" fill="#6868ee"/>
<circle cx="377.40" cy="325.90" r="3.2" fill="#0e0e52"/>
<circle cx="401.90" cy="328.30" r="3.2" fill="#6868ee"/>
<circle cx="370.50" cy="332.90" r="3.2" fill="#0e0e52"/>
<circle cx="374.50" cy="332.90" r="3.2" fill="#0e0e52"/>
<circle cx="367.60" cy="336.40" r="3.2" fill="#2a2ab4"/>
<circle cx="373.40" cy="339.30" r="3.2" fill="#0e0e52"/>
<circle cx="382.10" cy="335.50" r="3.2" fill="#2a2ab4"/>
<circle cx="384.40" cy="339.30" r="3.2" fill="#0e0e52"/>
<circle cx="386.20" cy="342.80" r="3.2" fill="#0e0e52"/>
<circle cx="389.10" cy="342.80" r="3.2" fill="#0e0e52"/>
<circle cx="390.80" cy="341.00" r="3.2" fill="#0e0e52"/>
<circle cx="391.60" cy="332.00" r="3.2" fill="#6868ee"/>
<circle cx="396.00" cy="335.00" r="3.2" fill="#0e0e52"/>
<circle cx="397.40" cy="337.60" r="3.2" fill="#0e0e52"/>
<circle cx="391.40" cy="334.70" r="3.2" fill="#2a2ab4"/>
<circle cx="426.20" cy="230.80" r="3.2" fill="#0e0e52"/>
<circle cx="480.50" cy="257.70" r="3.2" fill="#6868ee"/>
<circle cx="461.70" cy="274.60" r="3.2" fill="#0e0e52"/>
<circle cx="338.80" cy="281.60" r="3.2" fill="#0e0e52"/>
<circle cx="375.20" cy="274.60" r="3.2" fill="#0e0e52"/>
<circle cx="375.20" cy="285.90" r="3.2" fill="#6868ee"/>
<circle cx="374.10" cy="291.30" r="3.2" fill="#2a2ab4"/>
<circle cx="393.80" cy="302.00" r="3.2" fill="#6868ee"/>
<circle cx="397.20" cy="307.10" r="3.2" fill="#2a2ab4"/>
<circle cx="393.70" cy="309.70" r="3.2" fill="#6868ee"/>
<circle cx="412.90" cy="308.50" r="3.2" fill="#2a2ab4"/>
<circle cx="450.20" cy="309.70" r="3.2" fill="#6868ee"/>
<text x="423.80" y="226.90" font-size="7.25" text-anchor="end" fill="#222" font-style="italic" stroke="#222" stroke-width="0.22">Ptgs2</text>
<text x="478.00" y="254.40" font-size="7.25" text-anchor="end" fill="#222" font-style="italic" stroke="#222" stroke-width="0.22">Il10</text>
<text x="458.90" y="272.10" font-size="7.25" text-anchor="end" fill="#222" font-style="italic" stroke="#222" stroke-width="0.22">Il10</text>
<text x="338.80" y="277.50" font-size="7.25" text-anchor="middle" fill="#222" font-style="italic" stroke="#222" stroke-width="0.22">Il1b</text>
<text x="374.10" y="271.00" font-size="7.25" text-anchor="end" fill="#222" font-style="italic" stroke="#222" stroke-width="0.22">Vegfa</text>
<text x="372.00" y="285.80" font-size="7.25" text-anchor="end" fill="#222" font-style="italic" stroke="#222" stroke-width="0.22">Ccl22</text>
<text x="369.80" y="295.50" font-size="7.25" text-anchor="end" fill="#222" font-style="italic" stroke="#222" stroke-width="0.22">Vegfa</text>
<text x="394.20" y="298.70" font-size="7.25" text-anchor="middle" fill="#222" font-style="italic" stroke="#222" stroke-width="0.22">Tnf</text>
<text x="400.00" y="305.70" font-size="7.25" text-anchor="start" fill="#222" font-style="italic" stroke="#222" stroke-width="0.22">Il6</text>
<text x="390.30" y="309.60" font-size="7.25" text-anchor="end" fill="#222" font-style="italic" stroke="#222" stroke-width="0.22">Stat3</text>
<text x="416.90" y="305.70" font-size="7.25" text-anchor="start" fill="#222" font-style="italic" stroke="#222" stroke-width="0.22">Ccl22</text>
<text x="452.40" y="306.80" font-size="7.25" text-anchor="start" fill="#222" font-style="italic" stroke="#222" stroke-width="0.22">Il12b</text>
</svg></body></html>
